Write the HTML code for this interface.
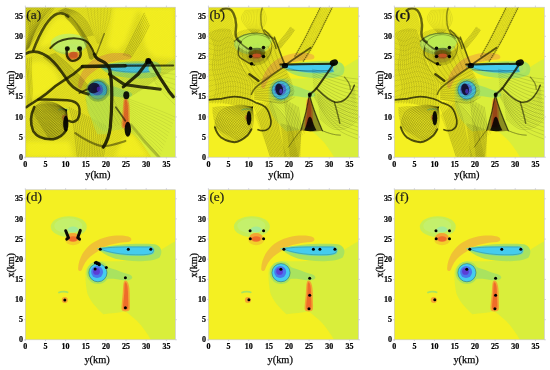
<!DOCTYPE html>
<html><head><meta charset="utf-8"><style>
html,body{margin:0;padding:0;background:#fff;}
svg{display:block;}
</style></head><body>
<svg width="550" height="370" viewBox="0 0 550 370">
<defs>
<pattern id="hatch" width="1.5" height="1.5" patternUnits="userSpaceOnUse" patternTransform="rotate(35)"><rect width="1.5" height="0.7" fill="#2e2e00" fill-opacity="0.62"/><rect x="0" y="0" width="0.6" height="1.5" fill="#2e2e00" fill-opacity="0.25"/></pattern>
<pattern id="hatch2" width="1.3" height="1.3" patternUnits="userSpaceOnUse" patternTransform="rotate(-60)"><rect width="1.3" height="0.65" fill="#222200" fill-opacity="0.7"/></pattern>
<filter id="blur2" x="-20%" y="-20%" width="140%" height="140%"><feGaussianBlur stdDeviation="2"/></filter>
<clipPath id="clip"><rect x="0" y="0" width="150" height="150"/></clipPath>
<filter id="soft" x="-5%" y="-5%" width="110%" height="110%"><feGaussianBlur stdDeviation="0.45"/></filter>
<g id="field" filter="url(#soft)">
<rect x="-2" y="-2" width="154" height="154" fill="#f4f021"/>
<path d="M60,84 C60,92 61,99 62,104 C64,110 70,118 78,125 C86,124 94,123.5 100,122 C104,125 108,128 112,132 C117,137 122,144 126.6,152 L152,152 L152,51 C144,55 138,59 134,62 C128,67 118,70 108,71 C98,72 88,72 80,72 C70,70 60,76 60,84 Z" fill="#d9ee3a"/>
<path d="M76,76 C84,78 94,82 100,84 C104,85 107,86 107,88.5 C106,91 102,91.5 98,91 C92,90 86,89 80,90 Z" fill="#a9e35f"/>
<path d="M73,59.5 C90,54.5 115,54 129,55 C136,56 138,63 134,68.5 C126,73 105,73 90,69.5 C82,67 76,63 73,59.5 Z" fill="#a9e35f"/>
<ellipse cx="43.5" cy="37.5" rx="18" ry="10.5" fill="#c6ee55"/>
<ellipse cx="43" cy="36.5" rx="14" ry="7.5" fill="#c4f06c"/>
<ellipse cx="47.8" cy="40.2" rx="5.5" ry="2.8" fill="#a2ec98"/>
<ellipse cx="47.8" cy="50" rx="8" ry="6" fill="#f2d02c"/>
<ellipse cx="47.6" cy="48.3" rx="6.4" ry="4.6" fill="#f4a432"/>
<ellipse cx="47.8" cy="49.6" rx="4.4" ry="2.6" fill="#ef6c2c"/>
<path d="M52.8,79.7 C53,72 56,64 63.7,56.6 C70,51 79,47.5 88,46.5 C95,46 102,46.3 105,48.3 C107,50.3 106,52.5 103,52.8 C98,53 92,53.8 84,55.8 C80,57 77,58.5 74.7,60.8 C71,63.3 67,65.5 64.9,67.6 C61,71 58,76 56.4,80.9 C55.5,82.5 53,82 52.8,79.7 Z" fill="#f0c234"/>
<circle cx="72.6" cy="83.5" r="11.3" fill="#a9e35f"/>
<path d="M75,59.8 C82,57.6 100,57.6 124,57.8 C128,58 129,61 127.5,63.5 C125,65.5 118,65.7 110,65.6 C96,65.4 84,63.5 75,59.8 Z" fill="none" stroke="#72d8b0" stroke-width="2.4"/>
<path d="M75,59.8 C82,57.6 100,57.6 124,57.8 C128,58 129,61 127.5,63.5 C125,65.5 118,65.7 110,65.6 C96,65.4 84,63.5 75,59.8 Z" fill="#44ccee" stroke="#1f6f80" stroke-width="0.4"/>
<circle cx="72.6" cy="83.5" r="9.1" fill="#44ccee" stroke="#1d5f74" stroke-width="0.5"/>
<circle cx="71.8" cy="82.8" r="6" fill="#4a78ee"/>
<circle cx="71.2" cy="82.2" r="3.4" fill="#5b3ed6"/>
<path d="M100.1,91.3 C102.5,91.3 104.4,96 104.4,104 C104.4,112 105,118 104.5,120 C103.8,123 96.6,123 96.3,120 C96,117 97,110 97.5,103 C98,96 98,91.3 100.1,91.3 Z" fill="#f4a432"/>
<path d="M100.1,93 C101.6,93 102.6,97 102.7,104 C102.8,111 103.4,116 102.9,119 C102.2,121 98.2,121 97.9,119 C97.6,116 98.6,110 99,103 C99.3,97 99,93 100.1,93 Z" fill="#ef6c2c"/>
<circle cx="39.5" cy="110.8" r="3" fill="#f4a432"/>
<path d="M33,103.5 C36,102 41,102 43,103.5" stroke="#a9e35f" stroke-width="1.6" fill="none"/>
</g>
</defs>
<rect width="550" height="370" fill="#fff"/>
<g transform="translate(25.3,7.2)">
<g clip-path="url(#clip)">
<use href="#field" transform="translate(0,-0.6)"/>
<g filter="url(#soft)"><path fill-rule="evenodd" d="M0,0 L150,0 L150,150 L0,150 Z M104,90 C112,86 124,78 134,70 L150,62 L150,150 L126,150 C118,138 110,126 104,118 Z" fill="#4a4a00" fill-opacity="0.066"/><path fill-rule="evenodd" d="M0,0 L150,0 L150,150 L0,150 Z M104,90 C112,86 124,78 134,70 L150,62 L150,150 L126,150 C118,138 110,126 104,118 Z" fill="url(#hatch)" opacity="0.165"/>
<g filter="url(#blur2)" fill="#f4f021" fill-opacity="0.85"><path d="M14,40 C18,28 24,18 31,11 C37,8 43,11 48,16 C53,22 56,27 57,31 C50,29 42,29 34,33 C26,37 20,40 14,40 Z"/><path d="M5,56 C12,52 20,54 26,60 C32,66 34,72 34,76 C28,80 20,86 12,90 L5,92 Z"/><path d="M0,134 L44,134 C46,140 47,146 48,150 L0,150 Z"/><path d="M88,0 L150,0 L150,52 L128,50 L120,40 C118,30 116,20 117,6 L112,4 C108,14 104,24 100,36 L92,44 L82,40 C84,28 86,14 88,0 Z"/><path d="M108,126 C112,134 118,142 124,150 L90,150 C92,142 96,134 100,130 Z"/></g>
<path d="M0,0 L30,0 C26,6 20,14 14,24 C10,31 6,38 3,42 L0,44 Z" fill="#4a4a00" fill-opacity="0.077"/><path d="M0,0 L30,0 C26,6 20,14 14,24 C10,31 6,38 3,42 L0,44 Z" fill="url(#hatch)" opacity="0.193"/>
<path d="M0.0,8.0 C0.7,10.0 3.7,15.7 4.0,20.0 C4.3,24.3 2.7,30.0 2.0,34.0 C1.3,38.0 0.3,42.3 0.0,44.0 M2.9,7.1 C3.3,9.1 5.6,14.6 5.6,18.9 C5.6,23.2 3.7,28.8 2.9,32.9 C2.0,37.0 0.9,41.8 0.4,43.6 M5.8,6.2 C6.0,8.1 7.4,13.5 7.1,17.8 C6.8,22.0 4.8,27.6 3.8,31.8 C2.7,36.0 1.4,41.2 0.9,43.1 M8.7,5.3 C8.7,7.2 9.3,12.4 8.7,16.7 C8.0,20.9 5.9,26.3 4.7,30.7 C3.4,35.0 1.9,40.7 1.3,42.7 M11.6,4.4 C11.3,6.3 11.2,11.4 10.2,15.6 C9.2,19.7 7.0,25.1 5.6,29.6 C4.1,34.0 2.4,40.1 1.8,42.2 M14.4,3.6 C14.0,5.4 13.1,10.3 11.8,14.4 C10.4,18.6 8.0,23.9 6.4,28.4 C4.9,33.0 2.9,39.6 2.2,41.8 M17.3,2.7 C16.7,4.4 15.0,9.2 13.3,13.3 C11.7,17.4 9.1,22.7 7.3,27.3 C5.6,32.0 3.4,39.0 2.7,41.3 M20.2,1.8 C19.3,3.5 16.9,8.1 14.9,12.2 C12.9,16.3 10.2,21.4 8.2,26.2 C6.3,31.0 4.0,38.4 3.1,40.9 M23.1,0.9 C22.0,2.6 18.8,7.1 16.4,11.1 C14.1,15.1 11.3,20.2 9.1,25.1 C7.0,30.0 4.5,37.9 3.6,40.4 M26.0,0.0 C24.7,1.7 20.7,6.0 18.0,10.0 C15.3,14.0 12.3,19.0 10.0,24.0 C7.7,29.0 5.0,37.3 4.0,40.0" fill="none" stroke="#141400" stroke-width="0.5" stroke-opacity="0.3" stroke-linecap="round"/>
<path d="M33.0,4.0 C34.8,4.7 40.8,5.7 44.0,8.0 C47.2,10.3 49.7,14.3 52.0,18.0 C54.3,21.7 57.0,28.0 58.0,30.0 M33.8,3.7 C35.6,4.3 41.7,5.3 44.9,7.7 C48.1,10.0 50.7,14.0 53.1,17.7 C55.5,21.4 58.1,27.8 59.1,29.8 M34.6,3.3 C36.4,4.0 42.5,5.0 45.8,7.3 C49.1,9.7 51.8,13.6 54.2,17.3 C56.6,21.0 59.2,27.5 60.2,29.6 M35.3,3.0 C37.2,3.7 43.3,4.7 46.7,7.0 C50.0,9.3 52.9,13.3 55.3,17.0 C57.8,20.7 60.3,27.3 61.3,29.3 M36.1,2.7 C38.0,3.3 44.2,4.3 47.6,6.7 C50.9,9.0 54.0,12.9 56.4,16.7 C58.9,20.4 61.4,27.0 62.4,29.1 M36.9,2.3 C38.8,3.0 45.0,4.0 48.4,6.3 C51.9,8.7 55.0,12.6 57.6,16.3 C60.1,20.1 62.6,26.8 63.6,28.9 M37.7,2.0 C39.6,2.7 45.8,3.7 49.3,6.0 C52.8,8.3 56.1,12.2 58.7,16.0 C61.2,19.8 63.7,26.6 64.7,28.7 M38.4,1.7 C40.4,2.3 46.7,3.3 50.2,5.7 C53.8,8.0 57.2,11.9 59.8,15.7 C62.4,19.5 64.8,26.3 65.8,28.4 M39.2,1.3 C41.2,2.0 47.5,3.0 51.1,5.3 C54.7,7.7 58.3,11.5 60.9,15.3 C63.5,19.1 65.9,26.1 66.9,28.2 M40.0,1.0 C42.0,1.7 48.3,2.7 52.0,5.0 C55.7,7.3 59.3,11.2 62.0,15.0 C64.7,18.8 67.0,25.8 68.0,28.0" fill="none" stroke="#141400" stroke-width="0.5" stroke-opacity="0.35" stroke-linecap="round"/>
<path d="M62.0,0.0 C62.3,2.0 63.0,8.0 64.0,12.0 C65.0,16.0 66.7,20.0 68.0,24.0 C69.3,28.0 71.3,34.0 72.0,36.0 M65.4,0.0 C65.7,2.0 66.1,8.0 66.9,12.0 C67.6,16.0 68.8,20.0 69.7,24.0 C70.7,28.0 72.1,34.0 72.6,36.0 M68.9,0.0 C69.0,2.0 69.3,8.0 69.7,12.0 C70.1,16.0 70.9,20.0 71.4,24.0 C72.0,28.0 72.9,34.0 73.1,36.0 M72.3,0.0 C72.3,2.0 72.4,8.0 72.6,12.0 C72.7,16.0 73.0,20.0 73.1,24.0 C73.3,28.0 73.6,34.0 73.7,36.0 M75.7,0.0 C75.7,2.0 75.6,8.0 75.4,12.0 C75.3,16.0 75.0,20.0 74.9,24.0 C74.7,28.0 74.4,34.0 74.3,36.0 M79.1,0.0 C79.0,2.0 78.7,8.0 78.3,12.0 C77.9,16.0 77.1,20.0 76.6,24.0 C76.0,28.0 75.1,34.0 74.9,36.0 M82.6,0.0 C82.3,2.0 81.9,8.0 81.1,12.0 C80.4,16.0 79.2,20.0 78.3,24.0 C77.3,28.0 75.9,34.0 75.4,36.0 M86.0,0.0 C85.7,2.0 85.0,8.0 84.0,12.0 C83.0,16.0 81.3,20.0 80.0,24.0 C78.7,28.0 76.7,34.0 76.0,36.0" fill="none" stroke="#141400" stroke-width="0.45" stroke-opacity="0.16" stroke-linecap="round"/>
<path d="M119.0,6.0 C117.8,8.3 114.3,15.3 112.0,20.0 C109.7,24.7 107.3,29.3 105.0,34.0 C102.7,38.7 99.2,45.7 98.0,48.0 M119.8,8.0 C118.7,10.3 115.3,17.2 113.0,21.7 C110.7,26.2 108.4,30.6 106.2,35.0 C103.9,39.4 100.5,46.1 99.3,48.3 M120.7,10.0 C119.6,12.2 116.2,19.0 114.0,23.3 C111.8,27.7 109.6,31.8 107.3,36.0 C105.1,40.2 101.8,46.6 100.7,48.7 M121.5,12.0 C120.4,14.2 117.2,20.8 115.0,25.0 C112.8,29.2 110.7,33.0 108.5,37.0 C106.3,41.0 103.1,47.0 102.0,49.0 M122.3,14.0 C121.3,16.1 118.1,22.7 116.0,26.7 C113.9,30.7 111.8,34.2 109.7,38.0 C107.6,41.8 104.4,47.4 103.3,49.3 M123.2,16.0 C122.1,18.1 119.1,24.5 117.0,28.3 C114.9,32.2 112.9,35.4 110.8,39.0 C108.8,42.6 105.7,47.9 104.7,49.7 M124.0,18.0 C123.0,20.0 120.0,26.3 118.0,30.0 C116.0,33.7 114.0,36.7 112.0,40.0 C110.0,43.3 107.0,48.3 106.0,50.0" fill="none" stroke="#141400" stroke-width="0.7" stroke-opacity="0.3" stroke-linecap="round" stroke-dasharray="0.7 1.0"/>
<path d="M0.0,52.0 C0.3,54.3 1.5,61.0 2.0,66.0 C2.5,71.0 3.0,76.7 3.0,82.0 C3.0,87.3 2.2,95.3 2.0,98.0 M2.0,51.3 C2.2,53.8 2.9,60.9 3.3,66.0 C3.7,71.1 4.3,76.8 4.3,82.0 C4.3,87.2 3.5,94.8 3.3,97.3 M4.0,50.7 C4.1,53.2 4.4,60.8 4.7,66.0 C4.9,71.2 5.7,76.9 5.7,82.0 C5.7,87.1 4.8,94.2 4.7,96.7 M6.0,50.0 C6.0,52.7 5.8,60.7 6.0,66.0 C6.2,71.3 7.0,77.0 7.0,82.0 C7.0,87.0 6.2,93.7 6.0,96.0" fill="none" stroke="#141400" stroke-width="0.5" stroke-opacity="0.3" stroke-linecap="round"/>
<path d="M18.0,50.0 C20.0,51.7 25.7,56.0 30.0,60.0 C34.3,64.0 39.7,69.7 44.0,74.0 C48.3,78.3 54.0,84.0 56.0,86.0 M19.0,49.7 C21.0,51.3 26.7,55.7 31.0,59.7 C35.3,63.6 40.6,69.2 44.8,73.5 C49.1,77.8 54.7,83.5 56.7,85.5 M20.0,49.3 C22.0,51.0 27.7,55.4 32.0,59.3 C36.3,63.3 41.4,68.7 45.7,73.0 C49.9,77.3 55.4,83.0 57.3,85.0 M21.0,49.0 C23.0,50.7 28.8,55.1 33.0,59.0 C37.2,62.9 42.3,68.2 46.5,72.5 C50.7,76.8 56.1,82.5 58.0,84.5 M22.0,48.7 C24.0,50.3 29.8,54.8 34.0,58.7 C38.2,62.6 43.2,67.8 47.3,72.0 C51.4,76.2 56.8,82.0 58.7,84.0 M23.0,48.3 C25.0,50.0 30.8,54.5 35.0,58.3 C39.2,62.2 44.1,67.3 48.2,71.5 C52.2,75.7 57.5,81.5 59.3,83.5 M24.0,48.0 C26.0,49.7 31.8,54.2 36.0,58.0 C40.2,61.8 45.0,66.8 49.0,71.0 C53.0,75.2 58.2,81.0 60.0,83.0 M25.0,47.7 C27.0,49.3 32.9,53.9 37.0,57.7 C41.1,61.5 45.9,66.4 49.8,70.5 C53.8,74.6 58.9,80.5 60.7,82.5 M26.0,47.3 C28.0,49.0 33.9,53.6 38.0,57.3 C42.1,61.1 46.8,65.9 50.7,70.0 C54.6,74.1 59.6,80.0 61.3,82.0 M27.0,47.0 C29.0,48.7 34.9,53.2 39.0,57.0 C43.1,60.8 47.7,65.4 51.5,69.5 C55.3,73.6 60.2,79.5 62.0,81.5 M28.0,46.7 C30.0,48.3 35.9,52.9 40.0,56.7 C44.1,60.4 48.6,64.9 52.3,69.0 C56.1,73.1 60.9,79.0 62.7,81.0 M29.0,46.3 C31.0,48.0 37.0,52.6 41.0,56.3 C45.0,60.0 49.4,64.5 53.2,68.5 C56.9,72.5 61.6,78.5 63.3,80.5 M30.0,46.0 C32.0,47.7 38.0,52.3 42.0,56.0 C46.0,59.7 50.3,64.0 54.0,68.0 C57.7,72.0 62.3,78.0 64.0,80.0" fill="none" stroke="#141400" stroke-width="0.5" stroke-opacity="0.4" stroke-linecap="round"/>
<path d="M8,99 C4,110 6,124 18,131.5 C28,133.5 37,130 42,122 L42,104 C32,96 18,94 8,99 Z" fill="#4a4a00" fill-opacity="0.099"/><path d="M8,99 C4,110 6,124 18,131.5 C28,133.5 37,130 42,122 L42,104 C32,96 18,94 8,99 Z" fill="url(#hatch2)" opacity="0.248"/>
<path d="M41.0,103.0 C39.2,101.8 34.2,97.3 30.0,96.0 C25.8,94.7 19.8,93.7 16.0,95.0 C12.2,96.3 8.5,102.5 7.0,104.0 M41.0,103.0 C39.2,101.9 34.5,97.8 30.4,96.7 C26.4,95.5 20.6,94.8 16.8,96.1 C13.0,97.5 9.2,103.6 7.6,105.0 M41.0,103.0 C39.3,102.1 34.8,98.3 30.9,97.3 C27.0,96.4 21.3,95.8 17.6,97.3 C13.8,98.8 9.8,104.6 8.3,106.1 M41.0,103.0 C39.4,102.2 35.1,98.8 31.3,98.0 C27.6,97.2 22.1,96.9 18.3,98.4 C14.6,100.0 10.5,105.7 8.9,107.1 M41.0,103.0 C39.5,102.3 35.4,99.2 31.8,98.7 C28.1,98.1 22.8,98.0 19.1,99.6 C15.4,101.2 11.1,106.7 9.5,108.1 M41.0,103.0 C39.5,102.4 35.7,99.7 32.2,99.3 C28.7,99.0 23.6,99.1 19.9,100.7 C16.2,102.4 11.8,107.8 10.1,109.2 M41.0,103.0 C39.6,102.5 36.1,100.2 32.7,100.0 C29.3,99.8 24.3,100.2 20.7,101.9 C17.0,103.6 12.4,108.8 10.8,110.2 M41.0,103.0 C39.7,102.6 36.4,100.7 33.1,100.7 C29.9,100.7 25.1,101.3 21.4,103.0 C17.8,104.8 13.1,109.9 11.4,111.3 M41.0,103.0 C39.8,102.7 36.7,101.1 33.6,101.3 C30.4,101.5 25.8,102.4 22.2,104.2 C18.6,106.0 13.7,110.9 12.0,112.3 M41.0,103.0 C39.8,102.8 37.0,101.6 34.0,102.0 C31.0,102.4 26.6,103.4 23.0,105.3 C19.4,107.2 14.4,112.0 12.7,113.3 M41.0,103.0 C39.9,102.9 37.3,102.1 34.4,102.7 C31.6,103.2 27.3,104.5 23.8,106.5 C20.3,108.4 15.0,113.1 13.3,114.4 M41.0,103.0 C40.0,103.1 37.6,102.6 34.9,103.3 C32.1,104.1 28.0,105.6 24.6,107.6 C21.1,109.6 15.7,114.1 13.9,115.4 M41.0,103.0 C40.1,103.2 37.9,103.0 35.3,104.0 C32.7,105.0 28.8,106.7 25.3,108.8 C21.9,110.9 16.4,115.2 14.6,116.4 M41.0,103.0 C40.1,103.3 38.3,103.5 35.8,104.7 C33.3,105.8 29.5,107.8 26.1,109.9 C22.7,112.1 17.0,116.2 15.2,117.5 M41.0,103.0 C40.2,103.4 38.6,104.0 36.2,105.3 C33.9,106.7 30.3,108.9 26.9,111.1 C23.5,113.3 17.7,117.3 15.8,118.5 M41.0,103.0 C40.3,103.5 38.9,104.5 36.7,106.0 C34.4,107.5 31.0,110.0 27.7,112.2 C24.3,114.5 18.3,118.3 16.4,119.6 M41.0,103.0 C40.4,103.6 39.2,104.9 37.1,106.7 C35.0,108.4 31.8,111.0 28.4,113.4 C25.1,115.7 19.0,119.4 17.1,120.6 M41.0,103.0 C40.4,103.7 39.5,105.4 37.6,107.3 C35.6,109.3 32.5,112.1 29.2,114.5 C25.9,116.9 19.6,120.4 17.7,121.6 M41.0,103.0 C40.5,103.8 39.8,105.9 38.0,108.0 C36.2,110.1 33.3,113.2 30.0,115.7 C26.7,118.1 20.3,121.5 18.3,122.7 M41.0,103.0 C40.6,103.9 40.1,106.4 38.4,108.7 C36.7,111.0 34.0,114.3 30.8,116.8 C27.5,119.3 20.9,122.6 19.0,123.7 M41.0,103.0 C40.6,104.1 40.5,106.8 38.9,109.3 C37.3,111.8 34.8,115.4 31.6,118.0 C28.3,120.5 21.6,123.6 19.6,124.7 M41.0,103.0 C40.7,104.2 40.8,107.3 39.3,110.0 C37.9,112.7 35.5,116.5 32.3,119.1 C29.1,121.7 22.2,124.7 20.2,125.8 M41.0,103.0 C40.8,104.3 41.1,107.8 39.8,110.7 C38.5,113.5 36.3,117.6 33.1,120.3 C30.0,123.0 22.9,125.7 20.9,126.8 M41.0,103.0 C40.9,104.4 41.4,108.3 40.2,111.3 C39.0,114.4 37.0,118.7 33.9,121.4 C30.8,124.2 23.5,126.8 21.5,127.9 M41.0,103.0 C40.9,104.5 41.7,108.7 40.7,112.0 C39.6,115.3 37.8,119.7 34.7,122.6 C31.6,125.4 24.2,127.8 22.1,128.9 M41.0,103.0 C41.0,104.6 42.0,109.2 41.1,112.7 C40.2,116.1 38.5,120.8 35.4,123.7 C32.4,126.6 24.9,128.9 22.7,129.9 M41.0,103.0 C41.1,104.7 42.4,109.7 41.6,113.3 C40.8,117.0 39.3,121.9 36.2,124.9 C33.2,127.8 25.5,129.9 23.4,131.0 M41.0,103.0 C41.2,104.8 42.7,110.2 42.0,114.0 C41.3,117.8 40.0,123.0 37.0,126.0 C34.0,129.0 26.2,131.0 24.0,132.0" fill="none" stroke="#141400" stroke-width="0.45" stroke-opacity="0.55" stroke-linecap="round"/>
<path d="M44.0,100.0 C44.7,102.7 47.0,110.7 48.0,116.0 C49.0,121.3 49.3,126.3 50.0,132.0 C50.7,137.7 51.7,147.0 52.0,150.0 M46.1,101.1 C46.8,103.7 49.1,111.6 50.0,116.8 C50.9,122.1 51.2,126.9 51.8,132.5 C52.4,138.0 53.2,147.1 53.5,150.0 M48.2,102.1 C48.9,104.7 51.1,112.5 52.0,117.6 C52.9,122.8 53.0,127.5 53.5,132.9 C54.0,138.3 54.8,147.2 55.1,150.0 M50.4,103.2 C51.0,105.7 53.2,113.4 54.0,118.5 C54.8,123.5 54.9,128.2 55.3,133.4 C55.7,138.7 56.4,147.2 56.6,150.0 M52.5,104.2 C53.1,106.7 55.2,114.4 56.0,119.3 C56.8,124.2 56.7,128.8 57.1,133.9 C57.4,139.0 57.9,147.3 58.1,150.0 M54.6,105.3 C55.2,107.8 57.3,115.3 58.0,120.1 C58.7,125.0 58.5,129.4 58.8,134.4 C59.1,139.3 59.5,147.4 59.6,150.0 M56.7,106.4 C57.3,108.8 59.4,116.2 60.0,120.9 C60.6,125.7 60.4,130.0 60.6,134.8 C60.8,139.7 61.1,147.5 61.2,150.0 M58.8,107.4 C59.4,109.8 61.4,117.1 62.0,121.8 C62.6,126.4 62.2,130.6 62.4,135.3 C62.5,140.0 62.6,147.5 62.7,150.0 M60.9,108.5 C61.5,110.8 63.5,118.0 64.0,122.6 C64.5,127.1 64.1,131.2 64.1,135.8 C64.2,140.3 64.2,147.6 64.2,150.0 M63.1,109.5 C63.5,111.8 65.5,119.0 66.0,123.4 C66.5,127.9 65.9,131.8 65.9,136.2 C65.8,140.7 65.8,147.7 65.8,150.0 M65.2,110.6 C65.6,112.9 67.6,119.9 68.0,124.2 C68.4,128.6 67.8,132.4 67.6,136.7 C67.5,141.0 67.4,147.8 67.3,150.0 M67.3,111.6 C67.7,113.9 69.6,120.8 70.0,125.1 C70.4,129.3 69.6,133.0 69.4,137.2 C69.2,141.3 68.9,147.9 68.8,150.0 M69.4,112.7 C69.8,114.9 71.7,121.7 72.0,125.9 C72.3,130.0 71.5,133.6 71.2,137.6 C70.9,141.7 70.5,147.9 70.4,150.0 M71.5,113.8 C71.9,115.9 73.8,122.6 74.0,126.7 C74.2,130.8 73.3,134.2 72.9,138.1 C72.6,142.0 72.1,148.0 71.9,150.0 M73.6,114.8 C74.0,116.9 75.8,123.6 76.0,127.5 C76.2,131.5 75.1,134.8 74.7,138.6 C74.3,142.3 73.6,148.1 73.4,150.0 M75.8,115.9 C76.1,118.0 77.9,124.5 78.0,128.4 C78.1,132.2 77.0,135.5 76.5,139.1 C76.0,142.7 75.2,148.2 74.9,150.0 M77.9,116.9 C78.2,119.0 79.9,125.4 80.0,129.2 C80.1,132.9 78.8,136.1 78.2,139.5 C77.6,143.0 76.8,148.3 76.5,150.0 M80.0,118.0 C80.3,120.0 82.0,126.3 82.0,130.0 C82.0,133.7 80.7,136.7 80.0,140.0 C79.3,143.3 78.3,148.3 78.0,150.0" fill="none" stroke="#141400" stroke-width="0.45" stroke-opacity="0.35" stroke-linecap="round"/>
<path d="M104.0,92.0 C106.7,93.0 114.7,96.0 120.0,98.0 C125.3,100.0 131.0,102.0 136.0,104.0 C141.0,106.0 147.7,109.0 150.0,110.0 M104.2,94.0 C106.8,95.1 114.6,98.5 119.8,100.6 C125.1,102.8 130.6,104.8 135.4,106.9 C140.2,109.0 146.5,112.1 148.8,113.1 M104.3,96.0 C106.9,97.2 114.6,100.9 119.7,103.2 C124.8,105.5 130.1,107.7 134.8,109.8 C139.4,112.0 145.4,115.1 147.5,116.2 M104.5,98.0 C107.0,99.3 114.6,103.4 119.5,105.8 C124.5,108.3 129.7,110.5 134.2,112.8 C138.6,115.0 144.3,118.2 146.3,119.2 M104.6,100.0 C107.1,101.4 114.6,105.8 119.4,108.5 C124.2,111.1 129.3,113.4 133.5,115.7 C137.8,118.0 143.2,121.2 145.1,122.3 M104.8,102.0 C107.2,103.5 114.5,108.3 119.2,111.1 C123.9,113.8 128.8,116.2 132.9,118.6 C137.0,121.0 142.0,124.3 143.8,125.4 M104.9,104.0 C107.3,105.6 114.5,110.8 119.1,113.7 C123.6,116.6 128.4,119.1 132.3,121.5 C136.2,124.0 140.9,127.3 142.6,128.5 M105.1,106.0 C107.4,107.7 114.5,113.2 118.9,116.3 C123.4,119.4 127.9,121.9 131.7,124.5 C135.4,127.0 139.8,130.4 141.4,131.5 M105.2,108.0 C107.5,109.8 114.5,115.7 118.8,118.9 C123.1,122.2 127.5,124.8 131.1,127.4 C134.6,130.0 138.6,133.4 140.2,134.6 M105.4,110.0 C107.6,111.9 114.4,118.2 118.6,121.5 C122.8,124.9 127.1,127.6 130.5,130.3 C133.8,133.0 137.5,136.5 138.9,137.7 M105.5,112.0 C107.7,114.0 114.4,120.6 118.5,124.2 C122.5,127.7 126.6,130.5 129.8,133.2 C133.1,136.0 136.4,139.5 137.7,140.8 M105.7,114.0 C107.8,116.1 114.4,123.1 118.3,126.8 C122.2,130.5 126.2,133.3 129.2,136.2 C132.3,139.0 135.3,142.6 136.5,143.8 M105.8,116.0 C107.9,118.2 114.4,125.5 118.2,129.4 C121.9,133.2 125.8,136.2 128.6,139.1 C131.5,142.0 134.1,145.6 135.2,146.9 M106.0,118.0 C108.0,120.3 114.3,128.0 118.0,132.0 C121.7,136.0 125.3,139.0 128.0,142.0 C130.7,145.0 133.0,148.7 134.0,150.0" fill="none" stroke="#141400" stroke-width="0.45" stroke-opacity="0.16" stroke-linecap="round"/>
<path d="M124.0,62.0 C126.2,62.0 132.7,62.0 137.0,62.0 C141.3,62.0 147.8,62.0 150.0,62.0 M124.9,64.0 C127.0,64.3 133.2,65.2 137.4,65.7 C141.6,66.2 147.9,66.9 150.0,67.1 M125.7,66.0 C127.7,66.6 133.8,68.4 137.9,69.4 C141.9,70.5 148.0,71.8 150.0,72.3 M126.6,68.0 C128.5,68.9 134.4,71.6 138.3,73.1 C142.2,74.7 148.0,76.7 150.0,77.4 M127.4,70.0 C129.3,71.1 135.0,74.8 138.7,76.9 C142.5,79.0 148.1,81.6 150.0,82.6 M128.3,72.0 C130.1,73.4 135.5,78.0 139.1,80.6 C142.8,83.2 148.2,86.5 150.0,87.7 M129.1,74.0 C130.9,75.7 136.1,81.1 139.6,84.3 C143.0,87.4 148.3,91.4 150.0,92.9 M130.0,76.0 C131.7,78.0 136.7,84.3 140.0,88.0 C143.3,91.7 148.3,96.3 150.0,98.0" fill="none" stroke="#141400" stroke-width="0.45" stroke-opacity="0.18" stroke-linecap="round"/>
<path d="M88.0,92.0 C88.7,93.3 90.7,97.3 92.0,100.0 C93.3,102.7 94.7,105.3 96.0,108.0 C97.3,110.7 99.3,114.7 100.0,116.0 M84.0,92.0 C84.7,93.4 86.9,97.5 88.3,100.3 C89.7,103.0 91.1,105.8 92.6,108.6 C94.0,111.3 96.1,115.5 96.9,116.9 M80.0,92.0 C80.8,93.4 83.0,97.7 84.6,100.6 C86.1,103.4 87.6,106.3 89.1,109.1 C90.7,112.0 93.0,116.3 93.7,117.7 M76.0,92.0 C76.8,93.5 79.2,97.9 80.9,100.9 C82.5,103.8 84.1,106.8 85.7,109.7 C87.3,112.7 89.8,117.1 90.6,118.6 M72.0,92.0 C72.9,93.5 75.4,98.1 77.1,101.1 C78.9,104.2 80.6,107.2 82.3,110.3 C84.0,113.3 86.6,117.9 87.4,119.4 M68.0,92.0 C68.9,93.6 71.6,98.3 73.4,101.4 C75.2,104.6 77.0,107.7 78.9,110.9 C80.7,114.0 83.4,118.7 84.3,120.3 M64.0,92.0 C65.0,93.6 67.8,98.5 69.7,101.7 C71.6,105.0 73.5,108.2 75.4,111.4 C77.3,114.7 80.2,119.5 81.1,121.1 M60.0,92.0 C61.0,93.7 64.0,98.7 66.0,102.0 C68.0,105.3 70.0,108.7 72.0,112.0 C74.0,115.3 77.0,120.3 78.0,122.0" fill="none" stroke="#141400" stroke-width="0.45" stroke-opacity="0.2" stroke-linecap="round"/>
<path d="M60.5,89 C68,88 76,88 84.5,88 L83.5,127 L72,127 C68,118 63,106 60.5,89 Z" fill="#b4e650" fill-opacity="0.5"/>
<ellipse cx="127.8" cy="61.2" rx="4.6" ry="4.6" fill="#b2e45e" fill-opacity="0.9" transform="rotate(0 127.8 61.2)"/>
<ellipse cx="43.5" cy="36" rx="18" ry="9.5" fill="#c4ee62" fill-opacity="0.85" transform="rotate(0 43.5 36)"/>
<ellipse cx="48.2" cy="47.5" rx="4.2" ry="3.0" fill="#c85a22" fill-opacity="0.95" transform="rotate(0 48.2 47.5)"/>
<path d="M8,43 C11,35 15,26 20,18 C24,12 28,8 32,6.5 C36,5.5 40,6.5 43,9.5" fill="none" stroke="#141400" stroke-width="2.6" stroke-opacity="0.7" stroke-linecap="round" stroke-linejoin="round" />
<path d="M42,9 C48,14 54,22 60,32 C63,38 65,44 66,50" fill="none" stroke="#141400" stroke-width="5" stroke-opacity="0.3" stroke-linecap="round" stroke-linejoin="round" />
<path d="M0,46.5 C5,44 12,44 17.3,46.5 C23,49 28,54 32,59 C36,64 40,70 44,76 C48,81 55,85 63,87" fill="none" stroke="#141400" stroke-width="2.8" stroke-opacity="0.8" stroke-linecap="round" stroke-linejoin="round" />
<path d="M25,41 C29,36 36,32.5 43,31.5 C50,30.5 56,31.5 60,33.5 C64,36 67,41 69,47" fill="none" stroke="#141400" stroke-width="2.0" stroke-opacity="0.8" stroke-linecap="round" stroke-linejoin="round" />
<path d="M69,47 C70,50 72,52 76,53.5 C80,55 83,58 84.5,63 C86,70 86.5,78 86.5,88 C86.5,100 86,110 85,120 C84,128 82,134 78,140" fill="none" stroke="#141400" stroke-width="3.2" stroke-opacity="0.9" stroke-linecap="round" stroke-linejoin="round" />
<path d="M57,59.3 L100,58.6" fill="none" stroke="#141400" stroke-width="3.4" stroke-opacity="0.9" stroke-linecap="round" stroke-linejoin="round" />
<path d="M100,58.6 L148,58.3" fill="none" stroke="#141400" stroke-width="2.0" stroke-opacity="0.75" stroke-linecap="round" stroke-linejoin="round" />
<path d="M98,79.7 L113,66.8 L123.3,53 L126.2,56 L135,71 L143.5,84 L148,89.5" fill="none" stroke="#141400" stroke-width="3.2" stroke-opacity="0.9" stroke-linecap="round" stroke-linejoin="round" />
<ellipse cx="123" cy="54" rx="3" ry="3.2" fill="#000" fill-opacity="0.9" transform="rotate(0 123 54)"/>
<path d="M84,67 C90,71 95,75 100,77.6 C110,79 122,80.5 135,82" fill="none" stroke="#141400" stroke-width="3.0" stroke-opacity="0.85" stroke-linecap="round" stroke-linejoin="round" />
<path d="M1,100 C8,95 14,92 21.6,86 C28,80 34,76 39,73 C44,70 50,66 57,59.5" fill="none" stroke="#141400" stroke-width="2.6" stroke-opacity="0.8" stroke-linecap="round" stroke-linejoin="round" />
<path d="M13,92.4 C22,92 32,92.4 42,93 C48,93.5 52,95 53.5,99 C55,103 54.5,109 52,112.5 C49.5,115 46,115 43.5,113.5" fill="none" stroke="#141400" stroke-width="2.4" stroke-opacity="0.8" stroke-linecap="round" stroke-linejoin="round" />
<path d="M9,100 C5,108 5,117 8,124 C12,130 20,132.5 28,132 C34,131 38,128 41,123" fill="none" stroke="#141400" stroke-width="2.6" stroke-opacity="0.8" stroke-linecap="round" stroke-linejoin="round" />
<ellipse cx="40.5" cy="116.5" rx="2.6" ry="8" fill="#000" fill-opacity="0.92" transform="rotate(0 40.5 116.5)"/>
<path d="M50,126 C58,132 70,138 77,139 C85,139 93,136 100,133.8" fill="none" stroke="#141400" stroke-width="2.2" stroke-opacity="0.45" stroke-linecap="round" stroke-linejoin="round" />
<ellipse cx="101" cy="88" rx="3" ry="4" fill="#000" fill-opacity="0.9" transform="rotate(0 101 88)"/>
<ellipse cx="102.5" cy="122" rx="3.2" ry="7.5" fill="#000" fill-opacity="0.92" transform="rotate(0 102.5 122)"/>
<path d="M90.5,100 C94,105 97,109 100,113.5" fill="none" stroke="#141400" stroke-width="1.8" stroke-opacity="0.6" stroke-linecap="round" stroke-linejoin="round" />
<path d="M79,26.4 L70,50" fill="none" stroke="#141400" stroke-width="1.4" stroke-opacity="0.45" stroke-linecap="round" stroke-linejoin="round" />
<path d="M105.4,117.6 C112,126 124,140 133.8,150" fill="none" stroke="#141400" stroke-width="3" stroke-opacity="0.2" stroke-linecap="round" stroke-linejoin="round" />
<path d="M54,85.8 C57,84.5 60,83 64,81.5" fill="none" stroke="#141400" stroke-width="1.8" stroke-opacity="0.7" stroke-linecap="round" stroke-linejoin="round" />
<ellipse cx="72.6" cy="83.5" rx="11.5" ry="11" fill="#103020" fill-opacity="0.22" transform="rotate(0 72.6 83.5)"/>
<ellipse cx="68.5" cy="80.8" rx="6" ry="5.2" fill="#0a0a28" fill-opacity="0.88" transform="rotate(-15 68.5 80.8)"/>
<ellipse cx="73.5" cy="81.8" rx="2.2" ry="2.6" fill="#4a2ab0" fill-opacity="0.75" transform="rotate(0 73.5 81.8)"/>
<ellipse cx="42" cy="41.5" rx="2.5" ry="2.4" fill="#000" fill-opacity="0.92" transform="rotate(0 42 41.5)"/>
<ellipse cx="54.3" cy="41.5" rx="2.5" ry="2.4" fill="#000" fill-opacity="0.92" transform="rotate(0 54.3 41.5)"/>
<path d="M41.5,43 C41,47 42,51 45,53 C48,54.5 52,53 54.5,50 C56,47.5 55.5,45 54.8,43" fill="none" stroke="#141400" stroke-width="2.4" stroke-opacity="0.85" stroke-linecap="round" stroke-linejoin="round" /></g>
</g>
<text x="1.0" y="12.3" font-family="Liberation Serif, serif" font-size="13.4" fill="#1a1a1a" stroke="#1a1a1a" stroke-width="0.2">(a)</text>
</g>
<text x="25.3" y="166.8" text-anchor="middle" font-family="Liberation Serif, serif" font-weight="bold" font-size="8" stroke="#000" stroke-width="0.2">0</text>
<text x="22.9" y="159.8" text-anchor="end" font-family="Liberation Serif, serif" font-weight="bold" font-size="8" stroke="#000" stroke-width="0.2">0</text>
<path d="M25.3,7.2 v-1.6 M25.3,157.2 v1.3 M25.3,157.2 h-1.3 M175.3,157.2 h1.6" stroke="#b8b8c8" stroke-width="0.6"/>
<text x="45.5" y="166.8" text-anchor="middle" font-family="Liberation Serif, serif" font-weight="bold" font-size="8" stroke="#000" stroke-width="0.2">5</text>
<text x="22.9" y="139.6" text-anchor="end" font-family="Liberation Serif, serif" font-weight="bold" font-size="8" stroke="#000" stroke-width="0.2">5</text>
<path d="M45.5,7.2 v-1.6 M45.5,157.2 v1.3 M25.3,137.0 h-1.3 M175.3,137.0 h1.6" stroke="#b8b8c8" stroke-width="0.6"/>
<text x="65.6" y="166.8" text-anchor="middle" font-family="Liberation Serif, serif" font-weight="bold" font-size="8" stroke="#000" stroke-width="0.2">10</text>
<text x="22.9" y="119.5" text-anchor="end" font-family="Liberation Serif, serif" font-weight="bold" font-size="8" stroke="#000" stroke-width="0.2">10</text>
<path d="M65.6,7.2 v-1.6 M65.6,157.2 v1.3 M25.3,116.9 h-1.3 M175.3,116.9 h1.6" stroke="#b8b8c8" stroke-width="0.6"/>
<text x="85.8" y="166.8" text-anchor="middle" font-family="Liberation Serif, serif" font-weight="bold" font-size="8" stroke="#000" stroke-width="0.2">15</text>
<text x="22.9" y="99.3" text-anchor="end" font-family="Liberation Serif, serif" font-weight="bold" font-size="8" stroke="#000" stroke-width="0.2">15</text>
<path d="M85.8,7.2 v-1.6 M85.8,157.2 v1.3 M25.3,96.7 h-1.3 M175.3,96.7 h1.6" stroke="#b8b8c8" stroke-width="0.6"/>
<text x="105.9" y="166.8" text-anchor="middle" font-family="Liberation Serif, serif" font-weight="bold" font-size="8" stroke="#000" stroke-width="0.2">20</text>
<text x="22.9" y="79.2" text-anchor="end" font-family="Liberation Serif, serif" font-weight="bold" font-size="8" stroke="#000" stroke-width="0.2">20</text>
<path d="M105.9,7.2 v-1.6 M105.9,157.2 v1.3 M25.3,76.6 h-1.3 M175.3,76.6 h1.6" stroke="#b8b8c8" stroke-width="0.6"/>
<text x="126.0" y="166.8" text-anchor="middle" font-family="Liberation Serif, serif" font-weight="bold" font-size="8" stroke="#000" stroke-width="0.2">25</text>
<text x="22.9" y="59.0" text-anchor="end" font-family="Liberation Serif, serif" font-weight="bold" font-size="8" stroke="#000" stroke-width="0.2">25</text>
<path d="M126.0,7.2 v-1.6 M126.0,157.2 v1.3 M25.3,56.4 h-1.3 M175.3,56.4 h1.6" stroke="#b8b8c8" stroke-width="0.6"/>
<text x="146.2" y="166.8" text-anchor="middle" font-family="Liberation Serif, serif" font-weight="bold" font-size="8" stroke="#000" stroke-width="0.2">30</text>
<text x="22.9" y="38.9" text-anchor="end" font-family="Liberation Serif, serif" font-weight="bold" font-size="8" stroke="#000" stroke-width="0.2">30</text>
<path d="M146.2,7.2 v-1.6 M146.2,157.2 v1.3 M25.3,36.3 h-1.3 M175.3,36.3 h1.6" stroke="#b8b8c8" stroke-width="0.6"/>
<text x="166.4" y="166.8" text-anchor="middle" font-family="Liberation Serif, serif" font-weight="bold" font-size="8" stroke="#000" stroke-width="0.2">35</text>
<text x="22.9" y="18.7" text-anchor="end" font-family="Liberation Serif, serif" font-weight="bold" font-size="8" stroke="#000" stroke-width="0.2">35</text>
<path d="M166.4,7.2 v-1.6 M166.4,157.2 v1.3 M25.3,16.1 h-1.3 M175.3,16.1 h1.6" stroke="#b8b8c8" stroke-width="0.6"/>
<rect x="25.3" y="7.2" width="150.0" height="150.0" fill="none" stroke="#c4c4cc" stroke-width="0.6"/>
<text x="97.9" y="177.6" text-anchor="middle" font-family="Liberation Serif, serif" font-size="10.4" stroke="#111" stroke-width="0.25">y(km)</text>
<text transform="translate(13.5,82.8) rotate(-90)" text-anchor="middle" font-family="Liberation Serif, serif" font-size="10" stroke="#111" stroke-width="0.25">x(km)</text><g transform="translate(208.4,7.2)">
<g clip-path="url(#clip)">
<use href="#field" transform="translate(0,-0.6)"/>
<g filter="url(#soft)"><path d="M0,0 L19,0 C23,6 26,14 26,24 L0,24 Z" fill="#4a4a00" fill-opacity="0.055"/><path d="M0,0 L19,0 C23,6 26,14 26,24 L0,24 Z" fill="url(#hatch)" opacity="0.138"/>
<path d="M0,26 C6,22 14,20 22,22 C26,30 28,40 30,50 C34,60 40,68 46,74 C44,84 42,92 44,100 L30,100 C20,96 10,94 0,96 Z" fill="#4a4a00" fill-opacity="0.066"/><path d="M0,26 C6,22 14,20 22,22 C26,30 28,40 30,50 C34,60 40,68 46,74 C44,84 42,92 44,100 L30,100 C20,96 10,94 0,96 Z" fill="url(#hatch)" opacity="0.165"/>
<path d="M0.0,24.0 C1.0,26.7 5.3,34.0 6.0,40.0 C6.7,46.0 3.7,53.3 4.0,60.0 C4.3,66.7 8.0,74.0 8.0,80.0 C8.0,86.0 4.7,93.3 4.0,96.0 M1.7,24.0 C2.7,26.7 6.9,34.0 7.6,40.0 C8.3,46.0 5.7,53.4 6.1,60.0 C6.6,66.6 10.3,73.7 10.4,79.7 C10.5,85.8 7.3,93.4 6.7,96.1 M3.5,24.0 C4.4,26.7 8.4,34.0 9.2,40.0 C10.0,46.0 7.7,53.4 8.3,60.0 C8.9,66.6 12.6,73.4 12.8,79.5 C13.0,85.5 9.9,93.5 9.3,96.3 M5.2,24.0 C6.1,26.7 9.9,34.0 10.8,40.0 C11.7,46.0 9.7,53.5 10.4,60.0 C11.1,66.5 14.9,73.1 15.2,79.2 C15.5,85.3 12.5,93.5 12.0,96.4 M6.9,24.0 C7.8,26.7 11.5,34.0 12.4,40.0 C13.3,46.0 11.7,53.5 12.5,60.0 C13.4,66.5 17.2,72.8 17.6,78.9 C18.0,85.0 15.2,93.6 14.7,96.5 M8.7,24.0 C9.6,26.7 13.0,34.0 14.0,40.0 C15.0,46.0 13.7,53.6 14.7,60.0 C15.7,66.4 19.6,72.6 20.0,78.7 C20.4,84.8 17.8,93.7 17.3,96.7 M10.4,24.0 C11.3,26.7 14.5,34.0 15.6,40.0 C16.7,46.0 15.7,53.6 16.8,60.0 C17.9,66.4 21.9,72.3 22.4,78.4 C22.9,84.5 20.4,93.7 20.0,96.8 M12.1,24.0 C13.0,26.7 16.1,34.0 17.2,40.0 C18.3,46.0 17.7,53.6 18.9,60.0 C20.2,66.4 24.2,72.0 24.8,78.1 C25.4,84.3 23.0,93.8 22.7,96.9 M13.9,24.0 C14.7,26.7 17.6,34.0 18.8,40.0 C20.0,46.0 19.7,53.7 21.1,60.0 C22.5,66.3 26.5,71.7 27.2,77.9 C27.9,84.0 25.6,93.9 25.3,97.1 M15.6,24.0 C16.4,26.7 19.1,34.0 20.4,40.0 C21.7,46.0 21.7,53.7 23.2,60.0 C24.7,66.3 28.8,71.4 29.6,77.6 C30.4,83.8 28.3,93.9 28.0,97.2 M17.3,24.0 C18.1,26.7 20.7,34.0 22.0,40.0 C23.3,46.0 23.7,53.8 25.3,60.0 C27.0,66.2 31.1,71.1 32.0,77.3 C32.9,83.6 30.9,94.0 30.7,97.3 M19.1,24.0 C19.8,26.7 22.2,34.0 23.6,40.0 C25.0,46.0 25.7,53.8 27.5,60.0 C29.3,66.2 33.4,70.8 34.4,77.1 C35.4,83.3 33.5,94.1 33.3,97.5 M20.8,24.0 C21.5,26.7 23.7,34.0 25.2,40.0 C26.7,46.0 27.7,53.9 29.6,60.0 C31.5,66.1 35.7,70.5 36.8,76.8 C37.9,83.1 36.1,94.1 36.0,97.6 M22.5,24.0 C23.2,26.7 25.3,34.0 26.8,40.0 C28.3,46.0 29.7,53.9 31.7,60.0 C33.8,66.1 38.0,70.2 39.2,76.5 C40.4,82.8 38.8,94.2 38.7,97.7 M24.3,24.0 C25.0,26.7 26.8,34.0 28.4,40.0 C30.0,46.0 31.7,54.0 33.9,60.0 C36.1,66.0 40.4,70.0 41.6,76.3 C42.8,82.6 41.4,94.3 41.3,97.9 M26.0,24.0 C26.7,26.7 28.3,34.0 30.0,40.0 C31.7,46.0 33.7,54.0 36.0,60.0 C38.3,66.0 42.7,69.7 44.0,76.0 C45.3,82.3 44.0,94.3 44.0,98.0" fill="none" stroke="#141400" stroke-width="0.45" stroke-opacity="0.25" stroke-linecap="round"/>
<path d="M0.0,30.0 C1.7,30.7 6.7,34.0 10.0,34.0 C13.3,34.0 17.0,29.7 20.0,30.0 C23.0,30.3 26.7,35.0 28.0,36.0 M0.0,35.5 C1.7,36.0 6.8,38.8 10.2,38.7 C13.6,38.6 17.3,34.6 20.5,34.9 C23.8,35.2 28.0,39.8 29.5,40.7 M0.0,40.9 C1.7,41.3 6.8,43.6 10.4,43.5 C13.9,43.3 17.7,39.5 21.1,39.8 C24.5,40.2 29.3,44.5 30.9,45.5 M0.0,46.4 C1.8,46.7 6.9,48.5 10.5,48.2 C14.2,47.9 18.0,44.4 21.6,44.7 C25.3,45.1 30.6,49.3 32.4,50.2 M0.0,51.8 C1.8,52.0 7.0,53.3 10.7,52.9 C14.4,52.5 18.3,49.3 22.2,49.6 C26.0,50.0 31.9,54.0 33.8,54.9 M0.0,57.3 C1.8,57.3 7.1,58.1 10.9,57.6 C14.7,57.2 18.7,54.2 22.7,54.5 C26.8,54.9 33.2,58.8 35.3,59.6 M0.0,62.7 C1.8,62.7 7.2,62.9 11.1,62.4 C15.0,61.8 19.0,59.1 23.3,59.5 C27.5,59.8 34.5,63.5 36.7,64.4 M0.0,68.2 C1.9,68.0 7.3,67.7 11.3,67.1 C15.2,66.5 19.3,64.0 23.8,64.4 C28.3,64.7 35.8,68.3 38.2,69.1 M0.0,73.6 C1.9,73.3 7.4,72.5 11.5,71.8 C15.5,71.1 19.7,68.9 24.4,69.3 C29.1,69.6 37.1,73.1 39.6,73.8 M0.0,79.1 C1.9,78.7 7.5,77.4 11.6,76.5 C15.8,75.7 20.0,73.8 24.9,74.2 C29.8,74.5 38.4,77.8 41.1,78.5 M0.0,84.5 C2.0,84.0 7.6,82.2 11.8,81.3 C16.1,80.4 20.3,78.8 25.5,79.1 C30.6,79.4 39.7,82.6 42.5,83.3 M0.0,90.0 C2.0,89.3 7.7,87.0 12.0,86.0 C16.3,85.0 20.7,83.7 26.0,84.0 C31.3,84.3 41.0,87.3 44.0,88.0" fill="none" stroke="#141400" stroke-width="0.4" stroke-opacity="0.18" stroke-linecap="round"/>
<path d="M46.0,28.0 C44.7,26.7 40.2,22.8 38.0,20.0 C35.8,17.2 33.2,13.8 33.0,11.0 C32.8,8.2 36.3,4.3 37.0,3.0 M46.0,28.0 C44.9,26.7 41.0,22.8 39.1,20.0 C37.2,17.2 34.8,13.8 34.7,11.0 C34.5,8.2 37.6,4.3 38.2,2.9 M46.0,28.0 C45.0,26.7 41.9,22.8 40.3,20.0 C38.7,17.2 36.5,13.9 36.3,11.0 C36.2,8.1 38.9,4.2 39.4,2.9 M46.0,28.0 C45.2,26.7 42.7,22.8 41.4,20.0 C40.1,17.2 38.1,13.9 38.0,11.0 C37.9,8.1 40.2,4.2 40.6,2.8 M46.0,28.0 C45.4,26.7 43.6,22.8 42.5,20.0 C41.5,17.2 39.8,13.9 39.7,11.0 C39.5,8.1 41.4,4.1 41.8,2.7 M46.0,28.0 C45.6,26.7 44.4,22.8 43.7,20.0 C42.9,17.2 41.4,13.9 41.3,11.0 C41.2,8.1 42.7,4.1 43.0,2.7 M46.0,28.0 C45.8,26.7 45.3,22.8 44.8,20.0 C44.3,17.2 43.1,13.9 43.0,11.0 C42.9,8.1 44.0,4.0 44.2,2.6 M46.0,28.0 C46.0,26.7 46.2,22.8 45.9,20.0 C45.7,17.2 44.8,13.9 44.7,11.0 C44.6,8.1 45.3,3.9 45.4,2.5 M46.0,28.0 C46.2,26.7 47.0,22.8 47.1,20.0 C47.1,17.2 46.4,13.9 46.3,11.0 C46.3,8.1 46.6,3.9 46.6,2.5 M46.0,28.0 C46.4,26.7 47.9,22.8 48.2,20.0 C48.5,17.2 48.1,13.9 48.0,11.0 C47.9,8.1 47.8,3.8 47.8,2.4 M46.0,28.0 C46.6,26.7 48.7,22.8 49.3,20.0 C49.9,17.2 49.7,13.9 49.7,11.0 C49.6,8.1 49.1,3.8 49.0,2.3 M46.0,28.0 C46.7,26.7 49.6,22.8 50.5,20.0 C51.4,17.2 51.4,14.0 51.3,11.0 C51.3,8.0 50.4,3.7 50.2,2.3 M46.0,28.0 C46.9,26.7 50.4,22.8 51.6,20.0 C52.8,17.2 53.0,14.0 53.0,11.0 C53.0,8.0 51.7,3.7 51.4,2.2 M46.0,28.0 C47.1,26.7 51.3,22.8 52.7,20.0 C54.2,17.2 54.7,14.0 54.7,11.0 C54.6,8.0 52.9,3.6 52.6,2.1 M46.0,28.0 C47.3,26.7 52.1,22.8 53.9,20.0 C55.6,17.2 56.3,14.0 56.3,11.0 C56.3,8.0 54.2,3.6 53.8,2.1 M46.0,28.0 C47.5,26.7 53.0,22.8 55.0,20.0 C57.0,17.2 58.0,14.0 58.0,11.0 C58.0,8.0 55.5,3.5 55.0,2.0" fill="none" stroke="#141400" stroke-width="0.45" stroke-opacity="0.2" stroke-linecap="round"/>
<path d="M112,0 L124,0 C118,14 110,30 102,46 C98,52 94,56 90,58 L84,54 C90,44 98,30 104,16 C108,8 110,4 112,0 Z" fill="#4a4a00" fill-opacity="0.033"/><path d="M112,0 L124,0 C118,14 110,30 102,46 C98,52 94,56 90,58 L84,54 C90,44 98,30 104,16 C108,8 110,4 112,0 Z" fill="url(#hatch)" opacity="0.083"/>
<path d="M112.0,0.0 C110.7,2.7 106.7,10.7 104.0,16.0 C101.3,21.3 99.0,26.3 96.0,32.0 C93.0,37.7 87.7,47.0 86.0,50.0 M113.7,0.0 C112.4,2.7 108.4,10.6 105.7,16.0 C103.0,21.4 100.6,26.5 97.6,32.3 C94.5,38.0 89.0,47.5 87.3,50.6 M115.4,0.0 C114.1,2.7 110.1,10.6 107.4,16.0 C104.7,21.4 102.3,26.7 99.1,32.6 C96.0,38.4 90.3,48.0 88.6,51.1 M117.1,0.0 C115.8,2.7 111.9,10.5 109.1,16.0 C106.4,21.5 103.9,26.9 100.7,32.9 C97.5,38.8 91.7,48.6 89.9,51.7 M118.9,0.0 C117.5,2.7 113.6,10.5 110.9,16.0 C108.1,21.5 105.6,27.1 102.3,33.1 C99.0,39.2 93.0,49.1 91.1,52.3 M120.6,0.0 C119.2,2.7 115.4,10.4 112.6,16.0 C109.8,21.6 107.2,27.3 103.9,33.4 C100.5,39.6 94.3,49.6 92.4,52.9 M122.3,0.0 C121.0,2.7 117.1,10.4 114.3,16.0 C111.5,21.6 108.9,27.5 105.4,33.7 C102.0,40.0 95.7,50.1 93.7,53.4 M124.0,0.0 C122.7,2.7 118.8,10.3 116.0,16.0 C113.2,21.7 110.5,27.7 107.0,34.0 C103.5,40.3 97.0,50.7 95.0,54.0" fill="none" stroke="#141400" stroke-width="0.4" stroke-opacity="0.22" stroke-linecap="round"/>
<path d="M112.0,0.0 C110.7,2.7 106.7,10.7 104.0,16.0 C101.3,21.3 99.0,26.3 96.0,32.0 C93.0,37.7 87.7,47.0 86.0,50.0 M124.0,0.0 C122.7,2.7 118.8,10.3 116.0,16.0 C113.2,21.7 110.5,27.7 107.0,34.0 C103.5,40.3 97.0,50.7 95.0,54.0" fill="none" stroke="#141400" stroke-width="1.5" stroke-opacity="0.5" stroke-linecap="round" stroke-dasharray="0.2 1.9"/>
<path d="M82.0,20.0 C81.2,21.2 78.7,24.8 77.0,27.0 C75.3,29.2 73.5,31.0 72.0,33.0 C70.5,35.0 68.7,38.0 68.0,39.0 M82.8,20.6 C82.0,21.8 79.5,25.4 77.8,27.6 C76.1,29.8 74.3,31.6 72.8,33.6 C71.3,35.6 69.5,38.4 68.8,39.4 M83.6,21.2 C82.8,22.4 80.3,26.0 78.6,28.2 C76.9,30.4 75.1,32.3 73.6,34.2 C72.1,36.1 70.3,38.9 69.6,39.8 M84.4,21.8 C83.6,23.0 81.1,26.6 79.4,28.8 C77.7,31.0 75.9,32.9 74.4,34.8 C72.9,36.7 71.1,39.3 70.4,40.2 M85.2,22.4 C84.4,23.6 81.9,27.2 80.2,29.4 C78.5,31.6 76.7,33.5 75.2,35.4 C73.7,37.3 71.9,39.7 71.2,40.6 M86.0,23.0 C85.2,24.2 82.7,27.8 81.0,30.0 C79.3,32.2 77.5,34.2 76.0,36.0 C74.5,37.8 72.7,40.2 72.0,41.0" fill="none" stroke="#141400" stroke-width="0.5" stroke-opacity="0.38" stroke-linecap="round"/>
<path d="M4,100 C4,116 10,130 24,135 C34,134 40,128 43,120 L44,102 C30,98 15,98 4,100 Z" fill="#4a4a00" fill-opacity="0.088"/><path d="M4,100 C4,116 10,130 24,135 C34,134 40,128 43,120 L44,102 C30,98 15,98 4,100 Z" fill="url(#hatch2)" opacity="0.220"/>
<path d="M44.0,100.0 C41.7,99.7 35.3,97.3 30.0,98.0 C24.7,98.7 16.0,100.3 12.0,104.0 C8.0,107.7 7.0,117.3 6.0,120.0 M44.0,100.0 C41.8,99.8 35.9,97.9 30.8,98.7 C25.7,99.6 17.5,101.4 13.6,105.1 C9.7,108.7 8.3,118.1 7.3,120.7 M44.0,100.0 C41.9,99.9 36.4,98.5 31.6,99.5 C26.8,100.5 19.0,102.4 15.2,106.1 C11.3,109.8 9.6,118.9 8.5,121.5 M44.0,100.0 C42.1,100.0 36.9,99.0 32.4,100.2 C27.8,101.4 20.5,103.5 16.7,107.2 C13.0,110.8 10.9,119.7 9.8,122.2 M44.0,100.0 C42.2,100.2 37.4,99.6 33.2,100.9 C28.9,102.3 22.0,104.5 18.3,108.2 C14.6,111.9 12.3,120.5 11.1,122.9 M44.0,100.0 C42.3,100.3 38.0,100.1 33.9,101.7 C29.9,103.2 23.5,105.6 19.9,109.3 C16.3,112.9 13.6,121.3 12.3,123.7 M44.0,100.0 C42.5,100.4 38.5,100.7 34.7,102.4 C31.0,104.1 25.0,106.6 21.5,110.3 C17.9,114.0 14.9,122.1 13.6,124.4 M44.0,100.0 C42.6,100.5 39.0,101.3 35.5,103.2 C32.0,105.1 26.5,107.7 23.1,111.4 C19.6,115.0 16.2,122.9 14.8,125.2 M44.0,100.0 C42.7,100.6 39.5,101.8 36.3,103.9 C33.1,106.0 28.0,108.8 24.6,112.4 C21.3,116.1 17.5,123.6 16.1,125.9 M44.0,100.0 C42.9,100.8 40.1,102.4 37.1,104.6 C34.1,106.9 29.5,109.8 26.2,113.5 C22.9,117.1 18.8,124.4 17.4,126.6 M44.0,100.0 C43.0,100.9 40.6,102.9 37.9,105.4 C35.2,107.8 31.0,110.9 27.8,114.5 C24.6,118.2 20.2,125.2 18.6,127.4 M44.0,100.0 C43.1,101.0 41.1,103.5 38.7,106.1 C36.2,108.7 32.5,111.9 29.4,115.6 C26.2,119.2 21.5,126.0 19.9,128.1 M44.0,100.0 C43.2,101.1 41.6,104.1 39.5,106.8 C37.3,109.6 34.0,113.0 30.9,116.6 C27.9,120.3 22.8,126.8 21.2,128.8 M44.0,100.0 C43.4,101.3 42.2,104.6 40.3,107.6 C38.4,110.5 35.5,114.0 32.5,117.7 C29.6,121.4 24.1,127.6 22.4,129.6 M44.0,100.0 C43.5,101.4 42.7,105.2 41.1,108.3 C39.4,111.4 37.0,115.1 34.1,118.7 C31.2,122.4 25.4,128.4 23.7,130.3 M44.0,100.0 C43.6,101.5 43.2,105.8 41.8,109.1 C40.5,112.4 38.5,116.1 35.7,119.8 C32.9,123.5 26.7,129.2 24.9,131.1 M44.0,100.0 C43.8,101.6 43.8,106.3 42.6,109.8 C41.5,113.3 40.0,117.2 37.3,120.8 C34.5,124.5 28.1,130.0 26.2,131.8 M44.0,100.0 C43.9,101.8 44.3,106.9 43.4,110.5 C42.6,114.2 41.5,118.2 38.8,121.9 C36.2,125.6 29.4,130.8 27.5,132.5 M44.0,100.0 C44.0,101.9 44.8,107.4 44.2,111.3 C43.6,115.1 43.0,119.3 40.4,122.9 C37.8,126.6 30.7,131.5 28.7,133.3 M44.0,100.0 C44.2,102.0 45.3,108.0 45.0,112.0 C44.7,116.0 44.5,120.3 42.0,124.0 C39.5,127.7 32.0,132.3 30.0,134.0" fill="none" stroke="#141400" stroke-width="0.45" stroke-opacity="0.45" stroke-linecap="round"/>
<path d="M44.0,96.0 C45.0,98.3 48.0,104.3 50.0,110.0 C52.0,115.7 54.0,123.3 56.0,130.0 C58.0,136.7 61.0,146.7 62.0,150.0 M45.6,95.8 C46.6,98.2 49.7,104.3 51.6,110.0 C53.6,115.7 55.5,123.3 57.5,130.0 C59.4,136.7 62.5,146.7 63.5,150.0 M47.3,95.6 C48.3,98.0 51.3,104.3 53.3,110.0 C55.2,115.7 57.0,123.3 58.9,130.0 C60.8,136.7 63.9,146.7 64.9,150.0 M48.9,95.5 C49.9,97.9 53.0,104.2 54.9,110.0 C56.8,115.8 58.5,123.3 60.4,130.0 C62.3,136.7 65.4,146.7 66.4,150.0 M50.5,95.3 C51.5,97.7 54.7,104.2 56.5,110.0 C58.4,115.8 59.9,123.3 61.8,130.0 C63.7,136.7 66.8,146.7 67.8,150.0 M52.2,95.1 C53.2,97.6 56.3,104.2 58.2,110.0 C60.0,115.8 61.4,123.3 63.3,130.0 C65.1,136.7 68.3,146.7 69.3,150.0 M53.8,94.9 C54.8,97.4 58.0,104.2 59.8,110.0 C61.6,115.8 62.9,123.3 64.7,130.0 C66.5,136.7 69.7,146.7 70.7,150.0 M55.5,94.7 C56.5,97.3 59.7,104.1 61.5,110.0 C63.2,115.9 64.4,123.3 66.2,130.0 C68.0,136.7 71.2,146.7 72.2,150.0 M57.1,94.5 C58.1,97.1 61.3,104.1 63.1,110.0 C64.8,115.9 65.9,123.3 67.6,130.0 C69.4,136.7 72.6,146.7 73.6,150.0 M58.7,94.4 C59.7,97.0 63.0,104.1 64.7,110.0 C66.5,115.9 67.4,123.3 69.1,130.0 C70.8,136.7 74.1,146.7 75.1,150.0 M60.4,94.2 C61.4,96.8 64.7,104.0 66.4,110.0 C68.1,116.0 68.8,123.3 70.5,130.0 C72.2,136.7 75.5,146.7 76.5,150.0 M62.0,94.0 C63.0,96.7 66.3,104.0 68.0,110.0 C69.7,116.0 70.3,123.3 72.0,130.0 C73.7,136.7 77.0,146.7 78.0,150.0" fill="none" stroke="#141400" stroke-width="0.45" stroke-opacity="0.32" stroke-linecap="round"/>
<path d="M62.0,94.0 C63.7,95.7 69.0,100.3 72.0,104.0 C75.0,107.7 77.7,111.0 80.0,116.0 C82.3,121.0 85.0,131.0 86.0,134.0 M63.6,93.6 C65.3,95.2 70.9,99.6 74.0,103.2 C77.1,106.8 79.7,110.3 82.0,115.2 C84.3,120.1 87.0,129.5 88.0,132.4 M65.2,93.2 C67.0,94.7 72.9,98.9 76.0,102.4 C79.1,105.9 81.7,109.7 84.0,114.4 C86.3,119.1 89.0,128.1 90.0,130.8 M66.8,92.8 C68.7,94.3 74.8,98.1 78.0,101.6 C81.2,105.1 83.7,109.0 86.0,113.6 C88.3,118.2 91.0,126.6 92.0,129.2 M68.4,92.4 C70.3,93.8 76.7,97.4 80.0,100.8 C83.3,104.2 85.7,108.3 88.0,112.8 C90.3,117.3 93.0,125.1 94.0,127.6 M70.0,92.0 C72.0,93.3 78.7,96.7 82.0,100.0 C85.3,103.3 87.7,107.7 90.0,112.0 C92.3,116.3 95.0,123.7 96.0,126.0" fill="none" stroke="#141400" stroke-width="0.45" stroke-opacity="0.25" stroke-linecap="round"/>
<path d="M104.0,62.0 C106.7,62.7 114.7,64.7 120.0,66.0 C125.3,67.3 131.0,69.0 136.0,70.0 C141.0,71.0 147.7,71.7 150.0,72.0 M104.1,63.9 C106.8,64.7 114.6,67.3 119.9,68.9 C125.1,70.6 130.7,72.4 135.7,73.6 C140.8,74.8 147.6,75.6 150.0,76.0 M104.3,65.7 C106.8,66.8 114.5,70.0 119.7,71.9 C124.9,73.8 130.4,75.8 135.5,77.2 C140.5,78.6 147.6,79.5 150.0,80.0 M104.4,67.6 C106.9,68.8 114.5,72.6 119.6,74.8 C124.7,77.0 130.1,79.3 135.2,80.8 C140.3,82.3 147.5,83.5 150.0,84.0 M104.5,69.5 C107.0,70.8 114.4,75.2 119.5,77.7 C124.5,80.2 129.8,82.7 134.9,84.4 C140.0,86.1 147.5,87.4 150.0,88.0 M104.7,71.3 C107.1,72.9 114.3,77.9 119.3,80.7 C124.3,83.4 129.6,86.1 134.7,88.0 C139.8,89.9 147.4,91.3 150.0,92.0 M104.8,73.2 C107.2,74.9 114.3,80.5 119.2,83.6 C124.1,86.7 129.3,89.5 134.4,91.6 C139.5,93.7 147.4,95.3 150.0,96.0 M104.9,75.1 C107.3,77.0 114.2,83.2 119.1,86.5 C123.9,89.9 129.0,93.0 134.1,95.2 C139.3,97.4 147.4,99.2 150.0,100.0 M105.1,76.9 C107.4,79.0 114.1,85.8 118.9,89.5 C123.7,93.1 128.7,96.4 133.9,98.8 C139.0,101.2 147.3,103.1 150.0,104.0 M105.2,78.8 C107.5,81.1 114.1,88.5 118.8,92.4 C123.5,96.3 128.4,99.8 133.6,102.4 C138.8,105.0 147.3,107.1 150.0,108.0 M105.3,80.7 C107.6,83.1 114.0,91.1 118.7,95.3 C123.3,99.6 128.1,103.2 133.3,106.0 C138.6,108.8 147.2,111.0 150.0,112.0 M105.5,82.5 C107.6,85.2 113.9,93.8 118.5,98.3 C123.1,102.8 127.8,106.6 133.1,109.6 C138.3,112.6 147.2,114.9 150.0,116.0 M105.6,84.4 C107.7,87.2 113.9,96.4 118.4,101.2 C122.9,106.0 127.5,110.1 132.8,113.2 C138.1,116.3 147.1,118.9 150.0,120.0 M105.7,86.3 C107.8,89.2 113.8,99.0 118.3,104.1 C122.7,109.2 127.2,113.5 132.5,116.8 C137.8,120.1 147.1,122.8 150.0,124.0 M105.9,88.1 C107.9,91.3 113.7,101.7 118.1,107.1 C122.5,112.4 127.0,116.9 132.3,120.4 C137.6,123.9 147.0,126.7 150.0,128.0 M106.0,90.0 C108.0,93.3 113.7,104.3 118.0,110.0 C122.3,115.7 126.7,120.3 132.0,124.0 C137.3,127.7 147.0,130.7 150.0,132.0" fill="none" stroke="#141400" stroke-width="0.45" stroke-opacity="0.28" stroke-linecap="round"/>
<path d="M46.0,76.0 C48.0,75.0 54.3,72.0 58.0,70.0 C61.7,68.0 65.0,65.7 68.0,64.0 C71.0,62.3 74.7,60.7 76.0,60.0 M46.0,77.8 C48.0,76.9 54.4,74.4 58.2,72.7 C62.0,71.0 65.5,69.1 68.7,67.6 C71.8,66.0 75.7,64.0 77.1,63.3 M46.0,79.6 C48.1,78.9 54.6,76.7 58.4,75.3 C62.3,73.9 66.0,72.6 69.3,71.1 C72.6,69.7 76.7,67.4 78.2,66.7 M46.0,81.3 C48.1,80.8 54.7,79.1 58.7,78.0 C62.7,76.9 66.6,76.0 70.0,74.7 C73.4,73.3 77.8,70.8 79.3,70.0 M46.0,83.1 C48.1,82.7 54.8,81.5 58.9,80.7 C63.0,79.9 67.1,79.4 70.7,78.2 C74.3,77.0 78.8,74.1 80.4,73.3 M46.0,84.9 C48.2,84.6 54.9,83.9 59.1,83.3 C63.3,82.8 67.6,82.9 71.3,81.8 C75.1,80.7 79.9,77.5 81.6,76.7 M46.0,86.7 C48.2,86.6 55.0,86.2 59.3,86.0 C63.7,85.8 68.1,86.3 72.0,85.3 C75.9,84.3 80.9,80.9 82.7,80.0 M46.0,88.4 C48.3,88.5 55.1,88.6 59.6,88.7 C64.0,88.7 68.6,89.8 72.7,88.9 C76.7,88.0 81.9,84.3 83.8,83.3 M46.0,90.2 C48.3,90.4 55.2,91.0 59.8,91.3 C64.3,91.7 69.1,93.2 73.3,92.4 C77.5,91.7 83.0,87.6 84.9,86.7 M46.0,92.0 C48.3,92.3 55.3,93.3 60.0,94.0 C64.7,94.7 69.7,96.7 74.0,96.0 C78.3,95.3 84.0,91.0 86.0,90.0" fill="none" stroke="#141400" stroke-width="0.45" stroke-opacity="0.3" stroke-linecap="round"/>
<path d="M30.0,42.0 C30.0,43.7 29.0,48.3 30.0,52.0 C31.0,55.7 33.3,60.0 36.0,64.0 C38.7,68.0 44.3,74.0 46.0,76.0 M33.8,40.7 C33.9,42.3 33.4,47.0 34.4,50.7 C35.5,54.3 37.7,58.7 40.2,62.7 C42.7,66.6 47.8,72.3 49.3,74.2 M37.6,39.3 C37.8,41.0 37.7,45.7 38.9,49.3 C40.0,53.0 42.1,57.5 44.4,61.3 C46.7,65.2 51.3,70.6 52.7,72.4 M41.3,38.0 C41.7,39.7 42.1,44.3 43.3,48.0 C44.6,51.7 46.6,56.2 48.7,60.0 C50.8,63.8 54.8,68.9 56.0,70.7 M45.1,36.7 C45.6,38.3 46.5,43.0 47.8,46.7 C49.1,50.3 51.0,55.0 52.9,58.7 C54.8,62.4 58.3,67.2 59.3,68.9 M48.9,35.3 C49.4,37.0 50.9,41.7 52.2,45.3 C53.6,49.0 55.4,53.7 57.1,57.3 C58.9,61.0 61.7,65.5 62.7,67.1 M52.7,34.0 C53.3,35.7 55.2,40.3 56.7,44.0 C58.1,47.7 59.8,52.4 61.3,56.0 C62.9,59.6 65.2,63.8 66.0,65.3 M56.4,32.7 C57.2,34.3 59.6,39.0 61.1,42.7 C62.6,46.3 64.2,51.2 65.6,54.7 C66.9,58.1 68.7,62.1 69.3,63.6 M60.2,31.3 C61.1,33.0 64.0,37.7 65.6,41.3 C67.1,45.0 68.6,49.9 69.8,53.3 C71.0,56.7 72.2,60.4 72.7,61.8 M64.0,30.0 C65.0,31.7 68.3,36.3 70.0,40.0 C71.7,43.7 73.0,48.7 74.0,52.0 C75.0,55.3 75.7,58.7 76.0,60.0" fill="none" stroke="#141400" stroke-width="0.45" stroke-opacity="0.3" stroke-linecap="round"/>
<path d="M28,26 C36,20 50,20 62,26 C68,32 72,42 76,56 L74,62 C66,68 56,74 46,76 C40,66 32,54 30,44 Z" fill="#4a4a00" fill-opacity="0.066"/><path d="M28,26 C36,20 50,20 62,26 C68,32 72,42 76,56 L74,62 C66,68 56,74 46,76 C40,66 32,54 30,44 Z" fill="url(#hatch)" opacity="0.165"/>
<path d="M46,76 C56,72 66,64 76,60 C80,66 84,74 86,84 C84,92 80,96 74,96 C64,96 54,94 46,92 Z" fill="#4a4a00" fill-opacity="0.077"/><path d="M46,76 C56,72 66,64 76,60 C80,66 84,74 86,84 C84,92 80,96 74,96 C64,96 54,94 46,92 Z" fill="url(#hatch)" opacity="0.193"/>
<ellipse cx="128.5" cy="61.2" rx="3.8" ry="4.6" fill="#b2e45e" fill-opacity="0.9" transform="rotate(0 128.5 61.2)"/>
<path d="M29,38 C34,44 42,46 48,46 C55,46 62,43 64,38 C64,48 60,56 50,58 C40,58 32,52 29,38 Z" fill="#3a3a00" fill-opacity="0.22"/>
<ellipse cx="48" cy="49" rx="8.5" ry="6.5" fill="#8a8a18" fill-opacity="0.45" transform="rotate(0 48 49)"/>
<ellipse cx="46.5" cy="33.5" rx="16.8" ry="8" fill="#bcec50" fill-opacity="0.9" transform="rotate(0 46.5 33.5)"/>
<ellipse cx="48.4" cy="45.5" rx="8.5" ry="5" fill="#1e1e00" fill-opacity="0.5" transform="rotate(0 48.4 45.5)"/>
<ellipse cx="48.4" cy="48.4" rx="4.4" ry="2.0" fill="#c85222" fill-opacity="0.95" transform="rotate(0 48.4 48.4)"/>
<path d="M55.7,22.8 C59,25 62,28.5 64,32 C66,35 67,38 67.6,41.2" fill="none" stroke="#141400" stroke-width="1.6" stroke-opacity="0.55" stroke-linecap="round" stroke-linejoin="round" />
<path d="M29.7,33.6 C32,36 35,39 40.5,42.3" fill="none" stroke="#141400" stroke-width="1.6" stroke-opacity="0.55" stroke-linecap="round" stroke-linejoin="round" />
<path d="M12.2,3.4 C14,1.5 17,0.5 20.3,1.4 C22.5,2.2 24,3.8 25,6 C26.5,9 27.5,13 27.7,17.6 C27.8,21 27,24 27.2,27.5 C27.5,31 29.5,33.5 32.4,35" fill="none" stroke="#141400" stroke-width="2.5" stroke-opacity="0.62" stroke-linecap="round" stroke-linejoin="round" />
<path d="M30.3,41 C29,46 30,50 34,52 C38,55 42,57 46,58" fill="none" stroke="#141400" stroke-width="1.6" stroke-opacity="0.6" stroke-linecap="round" stroke-linejoin="round" />
<path d="M26,34 C32,28 40,26 48,26 C56,26 62,29 66,32" fill="none" stroke="#141400" stroke-width="1.3" stroke-opacity="0.45" stroke-linecap="round" stroke-linejoin="round" />
<path d="M54,0 C52,6 52,12 53,18 C54,24 57,28 61,31" fill="none" stroke="#141400" stroke-width="1.4" stroke-opacity="0.45" stroke-linecap="round" stroke-linejoin="round" />
<path d="M66,30 C70,40 73,50 76.8,58" fill="none" stroke="#141400" stroke-width="1.6" stroke-opacity="0.6" stroke-linecap="round" stroke-linejoin="round" />
<path d="M76.8,58 C82,54 88,50 94,46 C97,44 100,42 102,40.5" fill="none" stroke="#141400" stroke-width="1.7" stroke-opacity="0.65" stroke-linecap="round" stroke-linejoin="round" />
<path d="M74.6,60.3 C66,66 58,72 50,78 C46,81 44,84 43,87" fill="none" stroke="#141400" stroke-width="1.5" stroke-opacity="0.55" stroke-linecap="round" stroke-linejoin="round" />
<path d="M72,57.3 L126,56.5" fill="none" stroke="#141400" stroke-width="2.0" stroke-opacity="0.85" stroke-linecap="round" stroke-linejoin="round" />
<path d="M78,62.5 C90,63.8 108,64.2 124,63" fill="none" stroke="#141400" stroke-width="0.8" stroke-opacity="0.45" stroke-linecap="round" stroke-linejoin="round" />
<ellipse cx="125.5" cy="55.5" rx="4.2" ry="3.2" fill="#000" fill-opacity="0.92" transform="rotate(-20 125.5 55.5)"/>
<ellipse cx="76.5" cy="58.5" rx="3.2" ry="2.6" fill="#000" fill-opacity="0.9" transform="rotate(0 76.5 58.5)"/>
<path d="M124,58.4 C119,66 114,73 109,80 C106,84 103,86 101.4,87.3" fill="none" stroke="#141400" stroke-width="2.0" stroke-opacity="0.8" stroke-linecap="round" stroke-linejoin="round" />
<path d="M101,87.3 C99,100 96,112 92.5,123 C100,124.5 106,124.5 114,123.5 C109,112 104,100 101,87.3 Z" fill="#2a1000" fill-opacity="0.45"/>
<path d="M99.8,111 C100.8,109 102.2,109 103.2,111 C104.5,115 106,119.5 108,123 C104,124.3 99.5,124.3 95.8,123 C97.5,119.5 98.8,115 99.8,111 Z" fill="#050300" fill-opacity="0.85"/>
<path d="M101,87.3 C99,100 96,112 92.5,123" fill="none" stroke="#141400" stroke-width="1.2" stroke-opacity="0.7" stroke-linecap="round" stroke-linejoin="round" />
<path d="M101,87.3 C104,100 109,112 114,123.5" fill="none" stroke="#141400" stroke-width="1.2" stroke-opacity="0.7" stroke-linecap="round" stroke-linejoin="round" />
<path d="M92.5,123 C88,128 84,134 80,140" fill="none" stroke="#141400" stroke-width="1.0" stroke-opacity="0.4" stroke-linecap="round" stroke-linejoin="round" />
<path d="M114,123.5 C120,126 126,128 132,128" fill="none" stroke="#141400" stroke-width="1.0" stroke-opacity="0.4" stroke-linecap="round" stroke-linejoin="round" />
<path d="M109.0,87.0 C112.0,88.3 121.7,94.8 127.0,95.0 C132.3,95.2 137.8,90.7 141.0,88.0 C144.2,85.3 145.2,80.5 146.0,79.0 M109.2,88.7 C112.2,90.0 121.6,96.6 126.9,96.8 C132.2,97.0 137.7,92.7 140.9,90.1 C144.2,87.5 145.4,82.7 146.3,81.2 M109.4,90.3 C112.3,91.7 121.6,98.3 126.9,98.6 C132.1,98.9 137.6,94.8 140.9,92.3 C144.1,89.7 145.6,84.9 146.5,83.4 M109.6,92.0 C112.5,93.4 121.6,100.0 126.8,100.4 C132.0,100.8 137.5,96.9 140.8,94.4 C144.1,91.9 145.8,87.1 146.8,85.6 M109.8,93.7 C112.6,95.1 121.6,101.7 126.7,102.2 C131.9,102.7 137.3,98.9 140.7,96.5 C144.1,94.1 146.0,89.3 147.1,87.8 M110.0,95.3 C112.8,96.8 121.6,103.4 126.7,104.0 C131.8,104.6 137.2,101.0 140.7,98.7 C144.1,96.3 146.2,91.4 147.3,90.0 M110.2,97.0 C112.9,98.5 121.5,105.2 126.6,105.8 C131.7,106.4 137.1,103.1 140.6,100.8 C144.1,98.5 146.4,93.6 147.6,92.2 M110.4,98.7 C113.1,100.2 121.5,106.9 126.5,107.6 C131.6,108.3 137.0,105.1 140.5,102.9 C144.1,100.7 146.6,95.8 147.9,94.4 M110.6,100.3 C113.2,101.8 121.5,108.6 126.5,109.4 C131.4,110.2 136.9,107.2 140.5,105.1 C144.1,102.9 146.9,98.0 148.1,96.6 M110.8,102.0 C113.4,103.5 121.5,110.3 126.4,111.2 C131.3,112.1 136.7,109.3 140.4,107.2 C144.1,105.1 147.1,100.2 148.4,98.8 M111.0,103.7 C113.6,105.2 121.4,112.1 126.3,113.0 C131.2,113.9 136.6,111.3 140.3,109.3 C144.1,107.3 147.3,102.4 148.7,101.0 M111.2,105.3 C113.7,106.9 121.4,113.8 126.3,114.8 C131.1,115.8 136.5,113.4 140.3,111.5 C144.0,109.5 147.5,104.6 148.9,103.2 M111.4,107.0 C113.9,108.6 121.4,115.5 126.2,116.6 C131.0,117.7 136.4,115.5 140.2,113.6 C144.0,111.7 147.7,106.8 149.2,105.4 M111.6,108.7 C114.0,110.3 121.4,117.2 126.1,118.4 C130.9,119.6 136.2,117.5 140.1,115.7 C144.0,113.9 147.9,109.0 149.5,107.6 M111.8,110.3 C114.2,112.0 121.4,118.9 126.1,120.2 C130.8,121.5 136.1,119.6 140.1,117.9 C144.0,116.1 148.1,111.1 149.7,109.8 M112.0,112.0 C114.3,113.7 121.3,120.7 126.0,122.0 C130.7,123.3 136.0,121.7 140.0,120.0 C144.0,118.3 148.3,113.3 150.0,112.0" fill="none" stroke="#141400" stroke-width="0.4" stroke-opacity="0.3" stroke-linecap="round"/>
<path d="M72,116 C80,118 88,120 93,123 L92,150 L76,150 C75,140 74,128 72,116 Z" fill="#4a4a00" fill-opacity="0.077"/><path d="M72,116 C80,118 88,120 93,123 L92,150 L76,150 C75,140 74,128 72,116 Z" fill="url(#hatch)" opacity="0.193"/>
<path d="M76.0,92.0 C76.3,95.0 77.3,103.7 78.0,110.0 C78.7,116.3 79.3,123.3 80.0,130.0 C80.7,136.7 81.7,146.7 82.0,150.0 M77.6,92.9 C77.9,95.8 78.9,104.4 79.6,110.6 C80.2,116.7 80.8,123.4 81.3,130.0 C81.9,136.6 82.6,146.7 82.9,150.0 M79.1,93.8 C79.4,96.7 80.5,105.1 81.1,111.1 C81.7,117.1 82.2,123.5 82.7,130.0 C83.1,136.5 83.6,146.7 83.8,150.0 M80.7,94.7 C81.0,97.5 82.1,105.8 82.7,111.7 C83.2,117.6 83.7,123.6 84.0,130.0 C84.3,136.4 84.6,146.7 84.7,150.0 M82.2,95.6 C82.6,98.3 83.7,106.5 84.2,112.2 C84.7,118.0 85.1,123.7 85.3,130.0 C85.6,136.3 85.5,146.7 85.6,150.0 M83.8,96.4 C84.1,99.2 85.3,107.2 85.8,112.8 C86.3,118.4 86.6,123.8 86.7,130.0 C86.8,136.2 86.5,146.7 86.4,150.0 M85.3,97.3 C85.7,100.0 86.9,107.9 87.3,113.3 C87.8,118.8 88.0,123.9 88.0,130.0 C88.0,136.1 87.4,146.7 87.3,150.0 M86.9,98.2 C87.2,100.8 88.5,108.6 88.9,113.9 C89.3,119.2 89.4,124.0 89.3,130.0 C89.2,136.0 88.4,146.7 88.2,150.0 M88.4,99.1 C88.8,101.7 90.1,109.3 90.4,114.4 C90.8,119.6 90.9,124.1 90.7,130.0 C90.4,135.9 89.4,146.7 89.1,150.0 M90.0,100.0 C90.3,102.5 91.7,110.0 92.0,115.0 C92.3,120.0 92.3,124.2 92.0,130.0 C91.7,135.8 90.3,146.7 90.0,150.0" fill="none" stroke="#141400" stroke-width="0.4" stroke-opacity="0.35" stroke-linecap="round"/>
<path d="M62,94 C70,100 78,110 84,122 C86,132 88,140 90,150 L62,150 C58,138 52,122 46,108 Z" fill="#4a4a00" fill-opacity="0.055"/><path d="M62,94 C70,100 78,110 84,122 C86,132 88,140 90,150 L62,150 C58,138 52,122 46,108 Z" fill="url(#hatch)" opacity="0.138"/>
<ellipse cx="101.4" cy="87.5" rx="2" ry="2.2" fill="#000" fill-opacity="0.9" transform="rotate(0 101.4 87.5)"/>
<path d="M108,81 C113,86 119,93 127,95 C134,96 139,91 142,86 C144,83 145,80 146,78" fill="none" stroke="#141400" stroke-width="1.5" stroke-opacity="0.7" stroke-linecap="round" stroke-linejoin="round" />
<path d="M126,95 C128,102 130,109 131.4,116" fill="none" stroke="#141400" stroke-width="1.4" stroke-opacity="0.55" stroke-linecap="round" stroke-linejoin="round" />
<path d="M136,70 C140,74 142,78 142,82" fill="none" stroke="#141400" stroke-width="1.2" stroke-opacity="0.45" stroke-linecap="round" stroke-linejoin="round" />
<path d="M0,92.7 C6,92 10,91.8 13,91.6 C18,90.5 22,89.5 26,89.5 C31,89.5 35,90.5 39,91.6 C43,93 45,94 47.6,95.5 C51,96.5 54,97 57,100 C60,103 61.5,108 62.5,113 C63,118 61,121.5 58,122.8 C55,124 52,123.5 49.7,122.5" fill="none" stroke="#141400" stroke-width="1.7" stroke-opacity="0.72" stroke-linecap="round" stroke-linejoin="round" />
<path d="M6.5,120 C8,125 10,128 13,130.5 C17,133 21,135 26,135 C31,135 35,132 39,128.4 C41,126 42,124 43,122" fill="none" stroke="#141400" stroke-width="2.0" stroke-opacity="0.72" stroke-linecap="round" stroke-linejoin="round" />
<ellipse cx="40.5" cy="111" rx="2.4" ry="7.2" fill="#000" fill-opacity="0.92" transform="rotate(0 40.5 111)"/>
<path d="M41,67 L50,73.5" fill="none" stroke="#141400" stroke-width="2.4" stroke-opacity="0.75" stroke-linecap="round" stroke-linejoin="round" />
<ellipse cx="70.8" cy="82.2" rx="3.8" ry="6" fill="#0c0c28" fill-opacity="0.9" transform="rotate(-10 70.8 82.2)"/>
<ellipse cx="72.5" cy="84" rx="1.6" ry="2.5" fill="#5038c0" fill-opacity="0.8" transform="rotate(0 72.5 84)"/>
<path d="M30,41 C30,34 38,28 46,27.5 C54,27 61,30 63,36 C64,42 62,48 58,52" fill="none" stroke="#141400" stroke-width="1.0" stroke-opacity="0.3" stroke-linecap="round" stroke-linejoin="round" />
<ellipse cx="42.2" cy="41" rx="1.8" ry="1.8" fill="#000" fill-opacity="0.92" transform="rotate(0 42.2 41)"/>
<ellipse cx="55.1" cy="40.4" rx="1.8" ry="1.8" fill="#000" fill-opacity="0.92" transform="rotate(0 55.1 40.4)"/>
<ellipse cx="42.2" cy="49.3" rx="1.8" ry="1.8" fill="#000" fill-opacity="0.92" transform="rotate(0 42.2 49.3)"/>
<ellipse cx="55.1" cy="49.3" rx="1.8" ry="1.8" fill="#000" fill-opacity="0.92" transform="rotate(0 55.1 49.3)"/>
<ellipse cx="43.2" cy="56.6" rx="1.8" ry="1.8" fill="#000" fill-opacity="0.92" transform="rotate(0 43.2 56.6)"/></g>
</g>
<text x="1.0" y="12.3" font-family="Liberation Serif, serif" font-size="13.4" fill="#1a1a1a" stroke="#1a1a1a" stroke-width="0.2">(b)</text>
</g>
<text x="208.4" y="166.8" text-anchor="middle" font-family="Liberation Serif, serif" font-weight="bold" font-size="8" stroke="#000" stroke-width="0.2">0</text>
<text x="206.0" y="159.8" text-anchor="end" font-family="Liberation Serif, serif" font-weight="bold" font-size="8" stroke="#000" stroke-width="0.2">0</text>
<path d="M208.4,7.2 v-1.6 M208.4,157.2 v1.3 M208.4,157.2 h-1.3 M358.4,157.2 h1.6" stroke="#b8b8c8" stroke-width="0.6"/>
<text x="228.6" y="166.8" text-anchor="middle" font-family="Liberation Serif, serif" font-weight="bold" font-size="8" stroke="#000" stroke-width="0.2">5</text>
<text x="206.0" y="139.6" text-anchor="end" font-family="Liberation Serif, serif" font-weight="bold" font-size="8" stroke="#000" stroke-width="0.2">5</text>
<path d="M228.6,7.2 v-1.6 M228.6,157.2 v1.3 M208.4,137.0 h-1.3 M358.4,137.0 h1.6" stroke="#b8b8c8" stroke-width="0.6"/>
<text x="248.7" y="166.8" text-anchor="middle" font-family="Liberation Serif, serif" font-weight="bold" font-size="8" stroke="#000" stroke-width="0.2">10</text>
<text x="206.0" y="119.5" text-anchor="end" font-family="Liberation Serif, serif" font-weight="bold" font-size="8" stroke="#000" stroke-width="0.2">10</text>
<path d="M248.7,7.2 v-1.6 M248.7,157.2 v1.3 M208.4,116.9 h-1.3 M358.4,116.9 h1.6" stroke="#b8b8c8" stroke-width="0.6"/>
<text x="268.9" y="166.8" text-anchor="middle" font-family="Liberation Serif, serif" font-weight="bold" font-size="8" stroke="#000" stroke-width="0.2">15</text>
<text x="206.0" y="99.3" text-anchor="end" font-family="Liberation Serif, serif" font-weight="bold" font-size="8" stroke="#000" stroke-width="0.2">15</text>
<path d="M268.9,7.2 v-1.6 M268.9,157.2 v1.3 M208.4,96.7 h-1.3 M358.4,96.7 h1.6" stroke="#b8b8c8" stroke-width="0.6"/>
<text x="289.0" y="166.8" text-anchor="middle" font-family="Liberation Serif, serif" font-weight="bold" font-size="8" stroke="#000" stroke-width="0.2">20</text>
<text x="206.0" y="79.2" text-anchor="end" font-family="Liberation Serif, serif" font-weight="bold" font-size="8" stroke="#000" stroke-width="0.2">20</text>
<path d="M289.0,7.2 v-1.6 M289.0,157.2 v1.3 M208.4,76.6 h-1.3 M358.4,76.6 h1.6" stroke="#b8b8c8" stroke-width="0.6"/>
<text x="309.1" y="166.8" text-anchor="middle" font-family="Liberation Serif, serif" font-weight="bold" font-size="8" stroke="#000" stroke-width="0.2">25</text>
<text x="206.0" y="59.0" text-anchor="end" font-family="Liberation Serif, serif" font-weight="bold" font-size="8" stroke="#000" stroke-width="0.2">25</text>
<path d="M309.1,7.2 v-1.6 M309.1,157.2 v1.3 M208.4,56.4 h-1.3 M358.4,56.4 h1.6" stroke="#b8b8c8" stroke-width="0.6"/>
<text x="329.3" y="166.8" text-anchor="middle" font-family="Liberation Serif, serif" font-weight="bold" font-size="8" stroke="#000" stroke-width="0.2">30</text>
<text x="206.0" y="38.9" text-anchor="end" font-family="Liberation Serif, serif" font-weight="bold" font-size="8" stroke="#000" stroke-width="0.2">30</text>
<path d="M329.3,7.2 v-1.6 M329.3,157.2 v1.3 M208.4,36.3 h-1.3 M358.4,36.3 h1.6" stroke="#b8b8c8" stroke-width="0.6"/>
<text x="349.5" y="166.8" text-anchor="middle" font-family="Liberation Serif, serif" font-weight="bold" font-size="8" stroke="#000" stroke-width="0.2">35</text>
<text x="206.0" y="18.7" text-anchor="end" font-family="Liberation Serif, serif" font-weight="bold" font-size="8" stroke="#000" stroke-width="0.2">35</text>
<path d="M349.5,7.2 v-1.6 M349.5,157.2 v1.3 M208.4,16.1 h-1.3 M358.4,16.1 h1.6" stroke="#b8b8c8" stroke-width="0.6"/>
<rect x="208.4" y="7.2" width="150.0" height="150.0" fill="none" stroke="#c4c4cc" stroke-width="0.6"/>
<text x="281.0" y="177.6" text-anchor="middle" font-family="Liberation Serif, serif" font-size="10.4" stroke="#111" stroke-width="0.25">y(km)</text>
<text transform="translate(196.6,82.8) rotate(-90)" text-anchor="middle" font-family="Liberation Serif, serif" font-size="10" stroke="#111" stroke-width="0.25">x(km)</text><g transform="translate(394.3,7.2)">
<g clip-path="url(#clip)">
<use href="#field" transform="translate(0,-0.6)"/>
<g filter="url(#soft)"><path d="M0,0 L19,0 C23,6 26,14 26,24 L0,24 Z" fill="#4a4a00" fill-opacity="0.055"/><path d="M0,0 L19,0 C23,6 26,14 26,24 L0,24 Z" fill="url(#hatch)" opacity="0.138"/>
<path d="M0,26 C6,22 14,20 22,22 C26,30 28,40 30,50 C34,60 40,68 46,74 C44,84 42,92 44,100 L30,100 C20,96 10,94 0,96 Z" fill="#4a4a00" fill-opacity="0.066"/><path d="M0,26 C6,22 14,20 22,22 C26,30 28,40 30,50 C34,60 40,68 46,74 C44,84 42,92 44,100 L30,100 C20,96 10,94 0,96 Z" fill="url(#hatch)" opacity="0.165"/>
<path d="M0.0,24.0 C1.0,26.7 5.3,34.0 6.0,40.0 C6.7,46.0 3.7,53.3 4.0,60.0 C4.3,66.7 8.0,74.0 8.0,80.0 C8.0,86.0 4.7,93.3 4.0,96.0 M1.7,24.0 C2.7,26.7 6.9,34.0 7.6,40.0 C8.3,46.0 5.7,53.4 6.1,60.0 C6.6,66.6 10.3,73.7 10.4,79.7 C10.5,85.8 7.3,93.4 6.7,96.1 M3.5,24.0 C4.4,26.7 8.4,34.0 9.2,40.0 C10.0,46.0 7.7,53.4 8.3,60.0 C8.9,66.6 12.6,73.4 12.8,79.5 C13.0,85.5 9.9,93.5 9.3,96.3 M5.2,24.0 C6.1,26.7 9.9,34.0 10.8,40.0 C11.7,46.0 9.7,53.5 10.4,60.0 C11.1,66.5 14.9,73.1 15.2,79.2 C15.5,85.3 12.5,93.5 12.0,96.4 M6.9,24.0 C7.8,26.7 11.5,34.0 12.4,40.0 C13.3,46.0 11.7,53.5 12.5,60.0 C13.4,66.5 17.2,72.8 17.6,78.9 C18.0,85.0 15.2,93.6 14.7,96.5 M8.7,24.0 C9.6,26.7 13.0,34.0 14.0,40.0 C15.0,46.0 13.7,53.6 14.7,60.0 C15.7,66.4 19.6,72.6 20.0,78.7 C20.4,84.8 17.8,93.7 17.3,96.7 M10.4,24.0 C11.3,26.7 14.5,34.0 15.6,40.0 C16.7,46.0 15.7,53.6 16.8,60.0 C17.9,66.4 21.9,72.3 22.4,78.4 C22.9,84.5 20.4,93.7 20.0,96.8 M12.1,24.0 C13.0,26.7 16.1,34.0 17.2,40.0 C18.3,46.0 17.7,53.6 18.9,60.0 C20.2,66.4 24.2,72.0 24.8,78.1 C25.4,84.3 23.0,93.8 22.7,96.9 M13.9,24.0 C14.7,26.7 17.6,34.0 18.8,40.0 C20.0,46.0 19.7,53.7 21.1,60.0 C22.5,66.3 26.5,71.7 27.2,77.9 C27.9,84.0 25.6,93.9 25.3,97.1 M15.6,24.0 C16.4,26.7 19.1,34.0 20.4,40.0 C21.7,46.0 21.7,53.7 23.2,60.0 C24.7,66.3 28.8,71.4 29.6,77.6 C30.4,83.8 28.3,93.9 28.0,97.2 M17.3,24.0 C18.1,26.7 20.7,34.0 22.0,40.0 C23.3,46.0 23.7,53.8 25.3,60.0 C27.0,66.2 31.1,71.1 32.0,77.3 C32.9,83.6 30.9,94.0 30.7,97.3 M19.1,24.0 C19.8,26.7 22.2,34.0 23.6,40.0 C25.0,46.0 25.7,53.8 27.5,60.0 C29.3,66.2 33.4,70.8 34.4,77.1 C35.4,83.3 33.5,94.1 33.3,97.5 M20.8,24.0 C21.5,26.7 23.7,34.0 25.2,40.0 C26.7,46.0 27.7,53.9 29.6,60.0 C31.5,66.1 35.7,70.5 36.8,76.8 C37.9,83.1 36.1,94.1 36.0,97.6 M22.5,24.0 C23.2,26.7 25.3,34.0 26.8,40.0 C28.3,46.0 29.7,53.9 31.7,60.0 C33.8,66.1 38.0,70.2 39.2,76.5 C40.4,82.8 38.8,94.2 38.7,97.7 M24.3,24.0 C25.0,26.7 26.8,34.0 28.4,40.0 C30.0,46.0 31.7,54.0 33.9,60.0 C36.1,66.0 40.4,70.0 41.6,76.3 C42.8,82.6 41.4,94.3 41.3,97.9 M26.0,24.0 C26.7,26.7 28.3,34.0 30.0,40.0 C31.7,46.0 33.7,54.0 36.0,60.0 C38.3,66.0 42.7,69.7 44.0,76.0 C45.3,82.3 44.0,94.3 44.0,98.0" fill="none" stroke="#141400" stroke-width="0.45" stroke-opacity="0.25" stroke-linecap="round"/>
<path d="M0.0,30.0 C1.7,30.7 6.7,34.0 10.0,34.0 C13.3,34.0 17.0,29.7 20.0,30.0 C23.0,30.3 26.7,35.0 28.0,36.0 M0.0,35.5 C1.7,36.0 6.8,38.8 10.2,38.7 C13.6,38.6 17.3,34.6 20.5,34.9 C23.8,35.2 28.0,39.8 29.5,40.7 M0.0,40.9 C1.7,41.3 6.8,43.6 10.4,43.5 C13.9,43.3 17.7,39.5 21.1,39.8 C24.5,40.2 29.3,44.5 30.9,45.5 M0.0,46.4 C1.8,46.7 6.9,48.5 10.5,48.2 C14.2,47.9 18.0,44.4 21.6,44.7 C25.3,45.1 30.6,49.3 32.4,50.2 M0.0,51.8 C1.8,52.0 7.0,53.3 10.7,52.9 C14.4,52.5 18.3,49.3 22.2,49.6 C26.0,50.0 31.9,54.0 33.8,54.9 M0.0,57.3 C1.8,57.3 7.1,58.1 10.9,57.6 C14.7,57.2 18.7,54.2 22.7,54.5 C26.8,54.9 33.2,58.8 35.3,59.6 M0.0,62.7 C1.8,62.7 7.2,62.9 11.1,62.4 C15.0,61.8 19.0,59.1 23.3,59.5 C27.5,59.8 34.5,63.5 36.7,64.4 M0.0,68.2 C1.9,68.0 7.3,67.7 11.3,67.1 C15.2,66.5 19.3,64.0 23.8,64.4 C28.3,64.7 35.8,68.3 38.2,69.1 M0.0,73.6 C1.9,73.3 7.4,72.5 11.5,71.8 C15.5,71.1 19.7,68.9 24.4,69.3 C29.1,69.6 37.1,73.1 39.6,73.8 M0.0,79.1 C1.9,78.7 7.5,77.4 11.6,76.5 C15.8,75.7 20.0,73.8 24.9,74.2 C29.8,74.5 38.4,77.8 41.1,78.5 M0.0,84.5 C2.0,84.0 7.6,82.2 11.8,81.3 C16.1,80.4 20.3,78.8 25.5,79.1 C30.6,79.4 39.7,82.6 42.5,83.3 M0.0,90.0 C2.0,89.3 7.7,87.0 12.0,86.0 C16.3,85.0 20.7,83.7 26.0,84.0 C31.3,84.3 41.0,87.3 44.0,88.0" fill="none" stroke="#141400" stroke-width="0.4" stroke-opacity="0.18" stroke-linecap="round"/>
<path d="M46.0,28.0 C44.7,26.7 40.2,22.8 38.0,20.0 C35.8,17.2 33.2,13.8 33.0,11.0 C32.8,8.2 36.3,4.3 37.0,3.0 M46.0,28.0 C44.9,26.7 41.0,22.8 39.1,20.0 C37.2,17.2 34.8,13.8 34.7,11.0 C34.5,8.2 37.6,4.3 38.2,2.9 M46.0,28.0 C45.0,26.7 41.9,22.8 40.3,20.0 C38.7,17.2 36.5,13.9 36.3,11.0 C36.2,8.1 38.9,4.2 39.4,2.9 M46.0,28.0 C45.2,26.7 42.7,22.8 41.4,20.0 C40.1,17.2 38.1,13.9 38.0,11.0 C37.9,8.1 40.2,4.2 40.6,2.8 M46.0,28.0 C45.4,26.7 43.6,22.8 42.5,20.0 C41.5,17.2 39.8,13.9 39.7,11.0 C39.5,8.1 41.4,4.1 41.8,2.7 M46.0,28.0 C45.6,26.7 44.4,22.8 43.7,20.0 C42.9,17.2 41.4,13.9 41.3,11.0 C41.2,8.1 42.7,4.1 43.0,2.7 M46.0,28.0 C45.8,26.7 45.3,22.8 44.8,20.0 C44.3,17.2 43.1,13.9 43.0,11.0 C42.9,8.1 44.0,4.0 44.2,2.6 M46.0,28.0 C46.0,26.7 46.2,22.8 45.9,20.0 C45.7,17.2 44.8,13.9 44.7,11.0 C44.6,8.1 45.3,3.9 45.4,2.5 M46.0,28.0 C46.2,26.7 47.0,22.8 47.1,20.0 C47.1,17.2 46.4,13.9 46.3,11.0 C46.3,8.1 46.6,3.9 46.6,2.5 M46.0,28.0 C46.4,26.7 47.9,22.8 48.2,20.0 C48.5,17.2 48.1,13.9 48.0,11.0 C47.9,8.1 47.8,3.8 47.8,2.4 M46.0,28.0 C46.6,26.7 48.7,22.8 49.3,20.0 C49.9,17.2 49.7,13.9 49.7,11.0 C49.6,8.1 49.1,3.8 49.0,2.3 M46.0,28.0 C46.7,26.7 49.6,22.8 50.5,20.0 C51.4,17.2 51.4,14.0 51.3,11.0 C51.3,8.0 50.4,3.7 50.2,2.3 M46.0,28.0 C46.9,26.7 50.4,22.8 51.6,20.0 C52.8,17.2 53.0,14.0 53.0,11.0 C53.0,8.0 51.7,3.7 51.4,2.2 M46.0,28.0 C47.1,26.7 51.3,22.8 52.7,20.0 C54.2,17.2 54.7,14.0 54.7,11.0 C54.6,8.0 52.9,3.6 52.6,2.1 M46.0,28.0 C47.3,26.7 52.1,22.8 53.9,20.0 C55.6,17.2 56.3,14.0 56.3,11.0 C56.3,8.0 54.2,3.6 53.8,2.1 M46.0,28.0 C47.5,26.7 53.0,22.8 55.0,20.0 C57.0,17.2 58.0,14.0 58.0,11.0 C58.0,8.0 55.5,3.5 55.0,2.0" fill="none" stroke="#141400" stroke-width="0.45" stroke-opacity="0.2" stroke-linecap="round"/>
<path d="M112,0 L124,0 C118,14 110,30 102,46 C98,52 94,56 90,58 L84,54 C90,44 98,30 104,16 C108,8 110,4 112,0 Z" fill="#4a4a00" fill-opacity="0.033"/><path d="M112,0 L124,0 C118,14 110,30 102,46 C98,52 94,56 90,58 L84,54 C90,44 98,30 104,16 C108,8 110,4 112,0 Z" fill="url(#hatch)" opacity="0.083"/>
<path d="M112.0,0.0 C110.7,2.7 106.7,10.7 104.0,16.0 C101.3,21.3 99.0,26.3 96.0,32.0 C93.0,37.7 87.7,47.0 86.0,50.0 M113.7,0.0 C112.4,2.7 108.4,10.6 105.7,16.0 C103.0,21.4 100.6,26.5 97.6,32.3 C94.5,38.0 89.0,47.5 87.3,50.6 M115.4,0.0 C114.1,2.7 110.1,10.6 107.4,16.0 C104.7,21.4 102.3,26.7 99.1,32.6 C96.0,38.4 90.3,48.0 88.6,51.1 M117.1,0.0 C115.8,2.7 111.9,10.5 109.1,16.0 C106.4,21.5 103.9,26.9 100.7,32.9 C97.5,38.8 91.7,48.6 89.9,51.7 M118.9,0.0 C117.5,2.7 113.6,10.5 110.9,16.0 C108.1,21.5 105.6,27.1 102.3,33.1 C99.0,39.2 93.0,49.1 91.1,52.3 M120.6,0.0 C119.2,2.7 115.4,10.4 112.6,16.0 C109.8,21.6 107.2,27.3 103.9,33.4 C100.5,39.6 94.3,49.6 92.4,52.9 M122.3,0.0 C121.0,2.7 117.1,10.4 114.3,16.0 C111.5,21.6 108.9,27.5 105.4,33.7 C102.0,40.0 95.7,50.1 93.7,53.4 M124.0,0.0 C122.7,2.7 118.8,10.3 116.0,16.0 C113.2,21.7 110.5,27.7 107.0,34.0 C103.5,40.3 97.0,50.7 95.0,54.0" fill="none" stroke="#141400" stroke-width="0.4" stroke-opacity="0.22" stroke-linecap="round"/>
<path d="M112.0,0.0 C110.7,2.7 106.7,10.7 104.0,16.0 C101.3,21.3 99.0,26.3 96.0,32.0 C93.0,37.7 87.7,47.0 86.0,50.0 M124.0,0.0 C122.7,2.7 118.8,10.3 116.0,16.0 C113.2,21.7 110.5,27.7 107.0,34.0 C103.5,40.3 97.0,50.7 95.0,54.0" fill="none" stroke="#141400" stroke-width="1.5" stroke-opacity="0.5" stroke-linecap="round" stroke-dasharray="0.2 1.9"/>
<path d="M82.0,20.0 C81.2,21.2 78.7,24.8 77.0,27.0 C75.3,29.2 73.5,31.0 72.0,33.0 C70.5,35.0 68.7,38.0 68.0,39.0 M82.8,20.6 C82.0,21.8 79.5,25.4 77.8,27.6 C76.1,29.8 74.3,31.6 72.8,33.6 C71.3,35.6 69.5,38.4 68.8,39.4 M83.6,21.2 C82.8,22.4 80.3,26.0 78.6,28.2 C76.9,30.4 75.1,32.3 73.6,34.2 C72.1,36.1 70.3,38.9 69.6,39.8 M84.4,21.8 C83.6,23.0 81.1,26.6 79.4,28.8 C77.7,31.0 75.9,32.9 74.4,34.8 C72.9,36.7 71.1,39.3 70.4,40.2 M85.2,22.4 C84.4,23.6 81.9,27.2 80.2,29.4 C78.5,31.6 76.7,33.5 75.2,35.4 C73.7,37.3 71.9,39.7 71.2,40.6 M86.0,23.0 C85.2,24.2 82.7,27.8 81.0,30.0 C79.3,32.2 77.5,34.2 76.0,36.0 C74.5,37.8 72.7,40.2 72.0,41.0" fill="none" stroke="#141400" stroke-width="0.5" stroke-opacity="0.38" stroke-linecap="round"/>
<path d="M4,100 C4,116 10,130 24,135 C34,134 40,128 43,120 L44,102 C30,98 15,98 4,100 Z" fill="#4a4a00" fill-opacity="0.088"/><path d="M4,100 C4,116 10,130 24,135 C34,134 40,128 43,120 L44,102 C30,98 15,98 4,100 Z" fill="url(#hatch2)" opacity="0.220"/>
<path d="M44.0,100.0 C41.7,99.7 35.3,97.3 30.0,98.0 C24.7,98.7 16.0,100.3 12.0,104.0 C8.0,107.7 7.0,117.3 6.0,120.0 M44.0,100.0 C41.8,99.8 35.9,97.9 30.8,98.7 C25.7,99.6 17.5,101.4 13.6,105.1 C9.7,108.7 8.3,118.1 7.3,120.7 M44.0,100.0 C41.9,99.9 36.4,98.5 31.6,99.5 C26.8,100.5 19.0,102.4 15.2,106.1 C11.3,109.8 9.6,118.9 8.5,121.5 M44.0,100.0 C42.1,100.0 36.9,99.0 32.4,100.2 C27.8,101.4 20.5,103.5 16.7,107.2 C13.0,110.8 10.9,119.7 9.8,122.2 M44.0,100.0 C42.2,100.2 37.4,99.6 33.2,100.9 C28.9,102.3 22.0,104.5 18.3,108.2 C14.6,111.9 12.3,120.5 11.1,122.9 M44.0,100.0 C42.3,100.3 38.0,100.1 33.9,101.7 C29.9,103.2 23.5,105.6 19.9,109.3 C16.3,112.9 13.6,121.3 12.3,123.7 M44.0,100.0 C42.5,100.4 38.5,100.7 34.7,102.4 C31.0,104.1 25.0,106.6 21.5,110.3 C17.9,114.0 14.9,122.1 13.6,124.4 M44.0,100.0 C42.6,100.5 39.0,101.3 35.5,103.2 C32.0,105.1 26.5,107.7 23.1,111.4 C19.6,115.0 16.2,122.9 14.8,125.2 M44.0,100.0 C42.7,100.6 39.5,101.8 36.3,103.9 C33.1,106.0 28.0,108.8 24.6,112.4 C21.3,116.1 17.5,123.6 16.1,125.9 M44.0,100.0 C42.9,100.8 40.1,102.4 37.1,104.6 C34.1,106.9 29.5,109.8 26.2,113.5 C22.9,117.1 18.8,124.4 17.4,126.6 M44.0,100.0 C43.0,100.9 40.6,102.9 37.9,105.4 C35.2,107.8 31.0,110.9 27.8,114.5 C24.6,118.2 20.2,125.2 18.6,127.4 M44.0,100.0 C43.1,101.0 41.1,103.5 38.7,106.1 C36.2,108.7 32.5,111.9 29.4,115.6 C26.2,119.2 21.5,126.0 19.9,128.1 M44.0,100.0 C43.2,101.1 41.6,104.1 39.5,106.8 C37.3,109.6 34.0,113.0 30.9,116.6 C27.9,120.3 22.8,126.8 21.2,128.8 M44.0,100.0 C43.4,101.3 42.2,104.6 40.3,107.6 C38.4,110.5 35.5,114.0 32.5,117.7 C29.6,121.4 24.1,127.6 22.4,129.6 M44.0,100.0 C43.5,101.4 42.7,105.2 41.1,108.3 C39.4,111.4 37.0,115.1 34.1,118.7 C31.2,122.4 25.4,128.4 23.7,130.3 M44.0,100.0 C43.6,101.5 43.2,105.8 41.8,109.1 C40.5,112.4 38.5,116.1 35.7,119.8 C32.9,123.5 26.7,129.2 24.9,131.1 M44.0,100.0 C43.8,101.6 43.8,106.3 42.6,109.8 C41.5,113.3 40.0,117.2 37.3,120.8 C34.5,124.5 28.1,130.0 26.2,131.8 M44.0,100.0 C43.9,101.8 44.3,106.9 43.4,110.5 C42.6,114.2 41.5,118.2 38.8,121.9 C36.2,125.6 29.4,130.8 27.5,132.5 M44.0,100.0 C44.0,101.9 44.8,107.4 44.2,111.3 C43.6,115.1 43.0,119.3 40.4,122.9 C37.8,126.6 30.7,131.5 28.7,133.3 M44.0,100.0 C44.2,102.0 45.3,108.0 45.0,112.0 C44.7,116.0 44.5,120.3 42.0,124.0 C39.5,127.7 32.0,132.3 30.0,134.0" fill="none" stroke="#141400" stroke-width="0.45" stroke-opacity="0.45" stroke-linecap="round"/>
<path d="M44.0,96.0 C45.0,98.3 48.0,104.3 50.0,110.0 C52.0,115.7 54.0,123.3 56.0,130.0 C58.0,136.7 61.0,146.7 62.0,150.0 M45.6,95.8 C46.6,98.2 49.7,104.3 51.6,110.0 C53.6,115.7 55.5,123.3 57.5,130.0 C59.4,136.7 62.5,146.7 63.5,150.0 M47.3,95.6 C48.3,98.0 51.3,104.3 53.3,110.0 C55.2,115.7 57.0,123.3 58.9,130.0 C60.8,136.7 63.9,146.7 64.9,150.0 M48.9,95.5 C49.9,97.9 53.0,104.2 54.9,110.0 C56.8,115.8 58.5,123.3 60.4,130.0 C62.3,136.7 65.4,146.7 66.4,150.0 M50.5,95.3 C51.5,97.7 54.7,104.2 56.5,110.0 C58.4,115.8 59.9,123.3 61.8,130.0 C63.7,136.7 66.8,146.7 67.8,150.0 M52.2,95.1 C53.2,97.6 56.3,104.2 58.2,110.0 C60.0,115.8 61.4,123.3 63.3,130.0 C65.1,136.7 68.3,146.7 69.3,150.0 M53.8,94.9 C54.8,97.4 58.0,104.2 59.8,110.0 C61.6,115.8 62.9,123.3 64.7,130.0 C66.5,136.7 69.7,146.7 70.7,150.0 M55.5,94.7 C56.5,97.3 59.7,104.1 61.5,110.0 C63.2,115.9 64.4,123.3 66.2,130.0 C68.0,136.7 71.2,146.7 72.2,150.0 M57.1,94.5 C58.1,97.1 61.3,104.1 63.1,110.0 C64.8,115.9 65.9,123.3 67.6,130.0 C69.4,136.7 72.6,146.7 73.6,150.0 M58.7,94.4 C59.7,97.0 63.0,104.1 64.7,110.0 C66.5,115.9 67.4,123.3 69.1,130.0 C70.8,136.7 74.1,146.7 75.1,150.0 M60.4,94.2 C61.4,96.8 64.7,104.0 66.4,110.0 C68.1,116.0 68.8,123.3 70.5,130.0 C72.2,136.7 75.5,146.7 76.5,150.0 M62.0,94.0 C63.0,96.7 66.3,104.0 68.0,110.0 C69.7,116.0 70.3,123.3 72.0,130.0 C73.7,136.7 77.0,146.7 78.0,150.0" fill="none" stroke="#141400" stroke-width="0.45" stroke-opacity="0.32" stroke-linecap="round"/>
<path d="M62.0,94.0 C63.7,95.7 69.0,100.3 72.0,104.0 C75.0,107.7 77.7,111.0 80.0,116.0 C82.3,121.0 85.0,131.0 86.0,134.0 M63.6,93.6 C65.3,95.2 70.9,99.6 74.0,103.2 C77.1,106.8 79.7,110.3 82.0,115.2 C84.3,120.1 87.0,129.5 88.0,132.4 M65.2,93.2 C67.0,94.7 72.9,98.9 76.0,102.4 C79.1,105.9 81.7,109.7 84.0,114.4 C86.3,119.1 89.0,128.1 90.0,130.8 M66.8,92.8 C68.7,94.3 74.8,98.1 78.0,101.6 C81.2,105.1 83.7,109.0 86.0,113.6 C88.3,118.2 91.0,126.6 92.0,129.2 M68.4,92.4 C70.3,93.8 76.7,97.4 80.0,100.8 C83.3,104.2 85.7,108.3 88.0,112.8 C90.3,117.3 93.0,125.1 94.0,127.6 M70.0,92.0 C72.0,93.3 78.7,96.7 82.0,100.0 C85.3,103.3 87.7,107.7 90.0,112.0 C92.3,116.3 95.0,123.7 96.0,126.0" fill="none" stroke="#141400" stroke-width="0.45" stroke-opacity="0.25" stroke-linecap="round"/>
<path d="M104.0,62.0 C106.7,62.7 114.7,64.7 120.0,66.0 C125.3,67.3 131.0,69.0 136.0,70.0 C141.0,71.0 147.7,71.7 150.0,72.0 M104.1,63.9 C106.8,64.7 114.6,67.3 119.9,68.9 C125.1,70.6 130.7,72.4 135.7,73.6 C140.8,74.8 147.6,75.6 150.0,76.0 M104.3,65.7 C106.8,66.8 114.5,70.0 119.7,71.9 C124.9,73.8 130.4,75.8 135.5,77.2 C140.5,78.6 147.6,79.5 150.0,80.0 M104.4,67.6 C106.9,68.8 114.5,72.6 119.6,74.8 C124.7,77.0 130.1,79.3 135.2,80.8 C140.3,82.3 147.5,83.5 150.0,84.0 M104.5,69.5 C107.0,70.8 114.4,75.2 119.5,77.7 C124.5,80.2 129.8,82.7 134.9,84.4 C140.0,86.1 147.5,87.4 150.0,88.0 M104.7,71.3 C107.1,72.9 114.3,77.9 119.3,80.7 C124.3,83.4 129.6,86.1 134.7,88.0 C139.8,89.9 147.4,91.3 150.0,92.0 M104.8,73.2 C107.2,74.9 114.3,80.5 119.2,83.6 C124.1,86.7 129.3,89.5 134.4,91.6 C139.5,93.7 147.4,95.3 150.0,96.0 M104.9,75.1 C107.3,77.0 114.2,83.2 119.1,86.5 C123.9,89.9 129.0,93.0 134.1,95.2 C139.3,97.4 147.4,99.2 150.0,100.0 M105.1,76.9 C107.4,79.0 114.1,85.8 118.9,89.5 C123.7,93.1 128.7,96.4 133.9,98.8 C139.0,101.2 147.3,103.1 150.0,104.0 M105.2,78.8 C107.5,81.1 114.1,88.5 118.8,92.4 C123.5,96.3 128.4,99.8 133.6,102.4 C138.8,105.0 147.3,107.1 150.0,108.0 M105.3,80.7 C107.6,83.1 114.0,91.1 118.7,95.3 C123.3,99.6 128.1,103.2 133.3,106.0 C138.6,108.8 147.2,111.0 150.0,112.0 M105.5,82.5 C107.6,85.2 113.9,93.8 118.5,98.3 C123.1,102.8 127.8,106.6 133.1,109.6 C138.3,112.6 147.2,114.9 150.0,116.0 M105.6,84.4 C107.7,87.2 113.9,96.4 118.4,101.2 C122.9,106.0 127.5,110.1 132.8,113.2 C138.1,116.3 147.1,118.9 150.0,120.0 M105.7,86.3 C107.8,89.2 113.8,99.0 118.3,104.1 C122.7,109.2 127.2,113.5 132.5,116.8 C137.8,120.1 147.1,122.8 150.0,124.0 M105.9,88.1 C107.9,91.3 113.7,101.7 118.1,107.1 C122.5,112.4 127.0,116.9 132.3,120.4 C137.6,123.9 147.0,126.7 150.0,128.0 M106.0,90.0 C108.0,93.3 113.7,104.3 118.0,110.0 C122.3,115.7 126.7,120.3 132.0,124.0 C137.3,127.7 147.0,130.7 150.0,132.0" fill="none" stroke="#141400" stroke-width="0.45" stroke-opacity="0.28" stroke-linecap="round"/>
<path d="M46.0,76.0 C48.0,75.0 54.3,72.0 58.0,70.0 C61.7,68.0 65.0,65.7 68.0,64.0 C71.0,62.3 74.7,60.7 76.0,60.0 M46.0,77.8 C48.0,76.9 54.4,74.4 58.2,72.7 C62.0,71.0 65.5,69.1 68.7,67.6 C71.8,66.0 75.7,64.0 77.1,63.3 M46.0,79.6 C48.1,78.9 54.6,76.7 58.4,75.3 C62.3,73.9 66.0,72.6 69.3,71.1 C72.6,69.7 76.7,67.4 78.2,66.7 M46.0,81.3 C48.1,80.8 54.7,79.1 58.7,78.0 C62.7,76.9 66.6,76.0 70.0,74.7 C73.4,73.3 77.8,70.8 79.3,70.0 M46.0,83.1 C48.1,82.7 54.8,81.5 58.9,80.7 C63.0,79.9 67.1,79.4 70.7,78.2 C74.3,77.0 78.8,74.1 80.4,73.3 M46.0,84.9 C48.2,84.6 54.9,83.9 59.1,83.3 C63.3,82.8 67.6,82.9 71.3,81.8 C75.1,80.7 79.9,77.5 81.6,76.7 M46.0,86.7 C48.2,86.6 55.0,86.2 59.3,86.0 C63.7,85.8 68.1,86.3 72.0,85.3 C75.9,84.3 80.9,80.9 82.7,80.0 M46.0,88.4 C48.3,88.5 55.1,88.6 59.6,88.7 C64.0,88.7 68.6,89.8 72.7,88.9 C76.7,88.0 81.9,84.3 83.8,83.3 M46.0,90.2 C48.3,90.4 55.2,91.0 59.8,91.3 C64.3,91.7 69.1,93.2 73.3,92.4 C77.5,91.7 83.0,87.6 84.9,86.7 M46.0,92.0 C48.3,92.3 55.3,93.3 60.0,94.0 C64.7,94.7 69.7,96.7 74.0,96.0 C78.3,95.3 84.0,91.0 86.0,90.0" fill="none" stroke="#141400" stroke-width="0.45" stroke-opacity="0.3" stroke-linecap="round"/>
<path d="M30.0,42.0 C30.0,43.7 29.0,48.3 30.0,52.0 C31.0,55.7 33.3,60.0 36.0,64.0 C38.7,68.0 44.3,74.0 46.0,76.0 M33.8,40.7 C33.9,42.3 33.4,47.0 34.4,50.7 C35.5,54.3 37.7,58.7 40.2,62.7 C42.7,66.6 47.8,72.3 49.3,74.2 M37.6,39.3 C37.8,41.0 37.7,45.7 38.9,49.3 C40.0,53.0 42.1,57.5 44.4,61.3 C46.7,65.2 51.3,70.6 52.7,72.4 M41.3,38.0 C41.7,39.7 42.1,44.3 43.3,48.0 C44.6,51.7 46.6,56.2 48.7,60.0 C50.8,63.8 54.8,68.9 56.0,70.7 M45.1,36.7 C45.6,38.3 46.5,43.0 47.8,46.7 C49.1,50.3 51.0,55.0 52.9,58.7 C54.8,62.4 58.3,67.2 59.3,68.9 M48.9,35.3 C49.4,37.0 50.9,41.7 52.2,45.3 C53.6,49.0 55.4,53.7 57.1,57.3 C58.9,61.0 61.7,65.5 62.7,67.1 M52.7,34.0 C53.3,35.7 55.2,40.3 56.7,44.0 C58.1,47.7 59.8,52.4 61.3,56.0 C62.9,59.6 65.2,63.8 66.0,65.3 M56.4,32.7 C57.2,34.3 59.6,39.0 61.1,42.7 C62.6,46.3 64.2,51.2 65.6,54.7 C66.9,58.1 68.7,62.1 69.3,63.6 M60.2,31.3 C61.1,33.0 64.0,37.7 65.6,41.3 C67.1,45.0 68.6,49.9 69.8,53.3 C71.0,56.7 72.2,60.4 72.7,61.8 M64.0,30.0 C65.0,31.7 68.3,36.3 70.0,40.0 C71.7,43.7 73.0,48.7 74.0,52.0 C75.0,55.3 75.7,58.7 76.0,60.0" fill="none" stroke="#141400" stroke-width="0.45" stroke-opacity="0.3" stroke-linecap="round"/>
<path d="M28,26 C36,20 50,20 62,26 C68,32 72,42 76,56 L74,62 C66,68 56,74 46,76 C40,66 32,54 30,44 Z" fill="#4a4a00" fill-opacity="0.066"/><path d="M28,26 C36,20 50,20 62,26 C68,32 72,42 76,56 L74,62 C66,68 56,74 46,76 C40,66 32,54 30,44 Z" fill="url(#hatch)" opacity="0.165"/>
<path d="M46,76 C56,72 66,64 76,60 C80,66 84,74 86,84 C84,92 80,96 74,96 C64,96 54,94 46,92 Z" fill="#4a4a00" fill-opacity="0.077"/><path d="M46,76 C56,72 66,64 76,60 C80,66 84,74 86,84 C84,92 80,96 74,96 C64,96 54,94 46,92 Z" fill="url(#hatch)" opacity="0.193"/>
<ellipse cx="128.5" cy="61.2" rx="3.8" ry="4.6" fill="#b2e45e" fill-opacity="0.9" transform="rotate(0 128.5 61.2)"/>
<path d="M29,38 C34,44 42,46 48,46 C55,46 62,43 64,38 C64,48 60,56 50,58 C40,58 32,52 29,38 Z" fill="#3a3a00" fill-opacity="0.22"/>
<ellipse cx="48" cy="49" rx="8.5" ry="6.5" fill="#8a8a18" fill-opacity="0.45" transform="rotate(0 48 49)"/>
<ellipse cx="46.5" cy="33.5" rx="16.8" ry="8" fill="#bcec50" fill-opacity="0.9" transform="rotate(0 46.5 33.5)"/>
<ellipse cx="48.4" cy="45.5" rx="8.5" ry="5" fill="#1e1e00" fill-opacity="0.5" transform="rotate(0 48.4 45.5)"/>
<ellipse cx="48.4" cy="48.4" rx="4.4" ry="2.0" fill="#c85222" fill-opacity="0.95" transform="rotate(0 48.4 48.4)"/>
<path d="M55.7,22.8 C59,25 62,28.5 64,32 C66,35 67,38 67.6,41.2" fill="none" stroke="#141400" stroke-width="1.6" stroke-opacity="0.55" stroke-linecap="round" stroke-linejoin="round" />
<path d="M29.7,33.6 C32,36 35,39 40.5,42.3" fill="none" stroke="#141400" stroke-width="1.6" stroke-opacity="0.55" stroke-linecap="round" stroke-linejoin="round" />
<path d="M12.2,3.4 C14,1.5 17,0.5 20.3,1.4 C22.5,2.2 24,3.8 25,6 C26.5,9 27.5,13 27.7,17.6 C27.8,21 27,24 27.2,27.5 C27.5,31 29.5,33.5 32.4,35" fill="none" stroke="#141400" stroke-width="2.5" stroke-opacity="0.62" stroke-linecap="round" stroke-linejoin="round" />
<path d="M30.3,41 C29,46 30,50 34,52 C38,55 42,57 46,58" fill="none" stroke="#141400" stroke-width="1.6" stroke-opacity="0.6" stroke-linecap="round" stroke-linejoin="round" />
<path d="M26,34 C32,28 40,26 48,26 C56,26 62,29 66,32" fill="none" stroke="#141400" stroke-width="1.3" stroke-opacity="0.45" stroke-linecap="round" stroke-linejoin="round" />
<path d="M54,0 C52,6 52,12 53,18 C54,24 57,28 61,31" fill="none" stroke="#141400" stroke-width="1.4" stroke-opacity="0.45" stroke-linecap="round" stroke-linejoin="round" />
<path d="M66,30 C70,40 73,50 76.8,58" fill="none" stroke="#141400" stroke-width="1.6" stroke-opacity="0.6" stroke-linecap="round" stroke-linejoin="round" />
<path d="M76.8,58 C82,54 88,50 94,46 C97,44 100,42 102,40.5" fill="none" stroke="#141400" stroke-width="1.7" stroke-opacity="0.65" stroke-linecap="round" stroke-linejoin="round" />
<path d="M74.6,60.3 C66,66 58,72 50,78 C46,81 44,84 43,87" fill="none" stroke="#141400" stroke-width="1.5" stroke-opacity="0.55" stroke-linecap="round" stroke-linejoin="round" />
<path d="M72,57.3 L126,56.5" fill="none" stroke="#141400" stroke-width="2.0" stroke-opacity="0.85" stroke-linecap="round" stroke-linejoin="round" />
<path d="M78,62.5 C90,63.8 108,64.2 124,63" fill="none" stroke="#141400" stroke-width="0.8" stroke-opacity="0.45" stroke-linecap="round" stroke-linejoin="round" />
<ellipse cx="125.5" cy="55.5" rx="4.2" ry="3.2" fill="#000" fill-opacity="0.92" transform="rotate(-20 125.5 55.5)"/>
<ellipse cx="76.5" cy="58.5" rx="3.2" ry="2.6" fill="#000" fill-opacity="0.9" transform="rotate(0 76.5 58.5)"/>
<path d="M124,58.4 C119,66 114,73 109,80 C106,84 103,86 101.4,87.3" fill="none" stroke="#141400" stroke-width="2.0" stroke-opacity="0.8" stroke-linecap="round" stroke-linejoin="round" />
<path d="M101,87.3 C99,100 96,112 92.5,123 C100,124.5 106,124.5 114,123.5 C109,112 104,100 101,87.3 Z" fill="#2a1000" fill-opacity="0.45"/>
<path d="M99.8,111 C100.8,109 102.2,109 103.2,111 C104.5,115 106,119.5 108,123 C104,124.3 99.5,124.3 95.8,123 C97.5,119.5 98.8,115 99.8,111 Z" fill="#050300" fill-opacity="0.85"/>
<path d="M101,87.3 C99,100 96,112 92.5,123" fill="none" stroke="#141400" stroke-width="1.2" stroke-opacity="0.7" stroke-linecap="round" stroke-linejoin="round" />
<path d="M101,87.3 C104,100 109,112 114,123.5" fill="none" stroke="#141400" stroke-width="1.2" stroke-opacity="0.7" stroke-linecap="round" stroke-linejoin="round" />
<path d="M92.5,123 C88,128 84,134 80,140" fill="none" stroke="#141400" stroke-width="1.0" stroke-opacity="0.4" stroke-linecap="round" stroke-linejoin="round" />
<path d="M114,123.5 C120,126 126,128 132,128" fill="none" stroke="#141400" stroke-width="1.0" stroke-opacity="0.4" stroke-linecap="round" stroke-linejoin="round" />
<path d="M109.0,87.0 C112.0,88.3 121.7,94.8 127.0,95.0 C132.3,95.2 137.8,90.7 141.0,88.0 C144.2,85.3 145.2,80.5 146.0,79.0 M109.2,88.7 C112.2,90.0 121.6,96.6 126.9,96.8 C132.2,97.0 137.7,92.7 140.9,90.1 C144.2,87.5 145.4,82.7 146.3,81.2 M109.4,90.3 C112.3,91.7 121.6,98.3 126.9,98.6 C132.1,98.9 137.6,94.8 140.9,92.3 C144.1,89.7 145.6,84.9 146.5,83.4 M109.6,92.0 C112.5,93.4 121.6,100.0 126.8,100.4 C132.0,100.8 137.5,96.9 140.8,94.4 C144.1,91.9 145.8,87.1 146.8,85.6 M109.8,93.7 C112.6,95.1 121.6,101.7 126.7,102.2 C131.9,102.7 137.3,98.9 140.7,96.5 C144.1,94.1 146.0,89.3 147.1,87.8 M110.0,95.3 C112.8,96.8 121.6,103.4 126.7,104.0 C131.8,104.6 137.2,101.0 140.7,98.7 C144.1,96.3 146.2,91.4 147.3,90.0 M110.2,97.0 C112.9,98.5 121.5,105.2 126.6,105.8 C131.7,106.4 137.1,103.1 140.6,100.8 C144.1,98.5 146.4,93.6 147.6,92.2 M110.4,98.7 C113.1,100.2 121.5,106.9 126.5,107.6 C131.6,108.3 137.0,105.1 140.5,102.9 C144.1,100.7 146.6,95.8 147.9,94.4 M110.6,100.3 C113.2,101.8 121.5,108.6 126.5,109.4 C131.4,110.2 136.9,107.2 140.5,105.1 C144.1,102.9 146.9,98.0 148.1,96.6 M110.8,102.0 C113.4,103.5 121.5,110.3 126.4,111.2 C131.3,112.1 136.7,109.3 140.4,107.2 C144.1,105.1 147.1,100.2 148.4,98.8 M111.0,103.7 C113.6,105.2 121.4,112.1 126.3,113.0 C131.2,113.9 136.6,111.3 140.3,109.3 C144.1,107.3 147.3,102.4 148.7,101.0 M111.2,105.3 C113.7,106.9 121.4,113.8 126.3,114.8 C131.1,115.8 136.5,113.4 140.3,111.5 C144.0,109.5 147.5,104.6 148.9,103.2 M111.4,107.0 C113.9,108.6 121.4,115.5 126.2,116.6 C131.0,117.7 136.4,115.5 140.2,113.6 C144.0,111.7 147.7,106.8 149.2,105.4 M111.6,108.7 C114.0,110.3 121.4,117.2 126.1,118.4 C130.9,119.6 136.2,117.5 140.1,115.7 C144.0,113.9 147.9,109.0 149.5,107.6 M111.8,110.3 C114.2,112.0 121.4,118.9 126.1,120.2 C130.8,121.5 136.1,119.6 140.1,117.9 C144.0,116.1 148.1,111.1 149.7,109.8 M112.0,112.0 C114.3,113.7 121.3,120.7 126.0,122.0 C130.7,123.3 136.0,121.7 140.0,120.0 C144.0,118.3 148.3,113.3 150.0,112.0" fill="none" stroke="#141400" stroke-width="0.4" stroke-opacity="0.3" stroke-linecap="round"/>
<path d="M72,116 C80,118 88,120 93,123 L92,150 L76,150 C75,140 74,128 72,116 Z" fill="#4a4a00" fill-opacity="0.077"/><path d="M72,116 C80,118 88,120 93,123 L92,150 L76,150 C75,140 74,128 72,116 Z" fill="url(#hatch)" opacity="0.193"/>
<path d="M76.0,92.0 C76.3,95.0 77.3,103.7 78.0,110.0 C78.7,116.3 79.3,123.3 80.0,130.0 C80.7,136.7 81.7,146.7 82.0,150.0 M77.6,92.9 C77.9,95.8 78.9,104.4 79.6,110.6 C80.2,116.7 80.8,123.4 81.3,130.0 C81.9,136.6 82.6,146.7 82.9,150.0 M79.1,93.8 C79.4,96.7 80.5,105.1 81.1,111.1 C81.7,117.1 82.2,123.5 82.7,130.0 C83.1,136.5 83.6,146.7 83.8,150.0 M80.7,94.7 C81.0,97.5 82.1,105.8 82.7,111.7 C83.2,117.6 83.7,123.6 84.0,130.0 C84.3,136.4 84.6,146.7 84.7,150.0 M82.2,95.6 C82.6,98.3 83.7,106.5 84.2,112.2 C84.7,118.0 85.1,123.7 85.3,130.0 C85.6,136.3 85.5,146.7 85.6,150.0 M83.8,96.4 C84.1,99.2 85.3,107.2 85.8,112.8 C86.3,118.4 86.6,123.8 86.7,130.0 C86.8,136.2 86.5,146.7 86.4,150.0 M85.3,97.3 C85.7,100.0 86.9,107.9 87.3,113.3 C87.8,118.8 88.0,123.9 88.0,130.0 C88.0,136.1 87.4,146.7 87.3,150.0 M86.9,98.2 C87.2,100.8 88.5,108.6 88.9,113.9 C89.3,119.2 89.4,124.0 89.3,130.0 C89.2,136.0 88.4,146.7 88.2,150.0 M88.4,99.1 C88.8,101.7 90.1,109.3 90.4,114.4 C90.8,119.6 90.9,124.1 90.7,130.0 C90.4,135.9 89.4,146.7 89.1,150.0 M90.0,100.0 C90.3,102.5 91.7,110.0 92.0,115.0 C92.3,120.0 92.3,124.2 92.0,130.0 C91.7,135.8 90.3,146.7 90.0,150.0" fill="none" stroke="#141400" stroke-width="0.4" stroke-opacity="0.35" stroke-linecap="round"/>
<path d="M62,94 C70,100 78,110 84,122 C86,132 88,140 90,150 L62,150 C58,138 52,122 46,108 Z" fill="#4a4a00" fill-opacity="0.055"/><path d="M62,94 C70,100 78,110 84,122 C86,132 88,140 90,150 L62,150 C58,138 52,122 46,108 Z" fill="url(#hatch)" opacity="0.138"/>
<ellipse cx="101.4" cy="87.5" rx="2" ry="2.2" fill="#000" fill-opacity="0.9" transform="rotate(0 101.4 87.5)"/>
<path d="M108,81 C113,86 119,93 127,95 C134,96 139,91 142,86 C144,83 145,80 146,78" fill="none" stroke="#141400" stroke-width="1.5" stroke-opacity="0.7" stroke-linecap="round" stroke-linejoin="round" />
<path d="M126,95 C128,102 130,109 131.4,116" fill="none" stroke="#141400" stroke-width="1.4" stroke-opacity="0.55" stroke-linecap="round" stroke-linejoin="round" />
<path d="M136,70 C140,74 142,78 142,82" fill="none" stroke="#141400" stroke-width="1.2" stroke-opacity="0.45" stroke-linecap="round" stroke-linejoin="round" />
<path d="M0,92.7 C6,92 10,91.8 13,91.6 C18,90.5 22,89.5 26,89.5 C31,89.5 35,90.5 39,91.6 C43,93 45,94 47.6,95.5 C51,96.5 54,97 57,100 C60,103 61.5,108 62.5,113 C63,118 61,121.5 58,122.8 C55,124 52,123.5 49.7,122.5" fill="none" stroke="#141400" stroke-width="1.7" stroke-opacity="0.72" stroke-linecap="round" stroke-linejoin="round" />
<path d="M6.5,120 C8,125 10,128 13,130.5 C17,133 21,135 26,135 C31,135 35,132 39,128.4 C41,126 42,124 43,122" fill="none" stroke="#141400" stroke-width="2.0" stroke-opacity="0.72" stroke-linecap="round" stroke-linejoin="round" />
<ellipse cx="40.5" cy="111" rx="2.4" ry="7.2" fill="#000" fill-opacity="0.92" transform="rotate(0 40.5 111)"/>
<path d="M41,67 L50,73.5" fill="none" stroke="#141400" stroke-width="2.4" stroke-opacity="0.75" stroke-linecap="round" stroke-linejoin="round" />
<ellipse cx="70.8" cy="82.2" rx="3.8" ry="6" fill="#0c0c28" fill-opacity="0.9" transform="rotate(-10 70.8 82.2)"/>
<ellipse cx="72.5" cy="84" rx="1.6" ry="2.5" fill="#5038c0" fill-opacity="0.8" transform="rotate(0 72.5 84)"/>
<path d="M30,41 C30,34 38,28 46,27.5 C54,27 61,30 63,36 C64,42 62,48 58,52" fill="none" stroke="#141400" stroke-width="1.0" stroke-opacity="0.3" stroke-linecap="round" stroke-linejoin="round" />
<ellipse cx="42.2" cy="41" rx="1.8" ry="1.8" fill="#000" fill-opacity="0.92" transform="rotate(0 42.2 41)"/>
<ellipse cx="55.1" cy="40.4" rx="1.8" ry="1.8" fill="#000" fill-opacity="0.92" transform="rotate(0 55.1 40.4)"/>
<ellipse cx="42.2" cy="49.3" rx="1.8" ry="1.8" fill="#000" fill-opacity="0.92" transform="rotate(0 42.2 49.3)"/>
<ellipse cx="55.1" cy="49.3" rx="1.8" ry="1.8" fill="#000" fill-opacity="0.92" transform="rotate(0 55.1 49.3)"/>
<ellipse cx="43.2" cy="56.6" rx="1.8" ry="1.8" fill="#000" fill-opacity="0.92" transform="rotate(0 43.2 56.6)"/></g>
</g>
<text x="1.0" y="12.3" font-family="Liberation Serif, serif" font-size="13.4" font-weight="bold" fill="#1a1a1a" stroke="#1a1a1a" stroke-width="0.2">(c)</text>
</g>
<text x="394.3" y="166.8" text-anchor="middle" font-family="Liberation Serif, serif" font-weight="bold" font-size="8" stroke="#000" stroke-width="0.2">0</text>
<text x="391.9" y="159.8" text-anchor="end" font-family="Liberation Serif, serif" font-weight="bold" font-size="8" stroke="#000" stroke-width="0.2">0</text>
<path d="M394.3,7.2 v-1.6 M394.3,157.2 v1.3 M394.3,157.2 h-1.3 M544.3,157.2 h1.6" stroke="#b8b8c8" stroke-width="0.6"/>
<text x="414.4" y="166.8" text-anchor="middle" font-family="Liberation Serif, serif" font-weight="bold" font-size="8" stroke="#000" stroke-width="0.2">5</text>
<text x="391.9" y="139.6" text-anchor="end" font-family="Liberation Serif, serif" font-weight="bold" font-size="8" stroke="#000" stroke-width="0.2">5</text>
<path d="M414.4,7.2 v-1.6 M414.4,157.2 v1.3 M394.3,137.0 h-1.3 M544.3,137.0 h1.6" stroke="#b8b8c8" stroke-width="0.6"/>
<text x="434.6" y="166.8" text-anchor="middle" font-family="Liberation Serif, serif" font-weight="bold" font-size="8" stroke="#000" stroke-width="0.2">10</text>
<text x="391.9" y="119.5" text-anchor="end" font-family="Liberation Serif, serif" font-weight="bold" font-size="8" stroke="#000" stroke-width="0.2">10</text>
<path d="M434.6,7.2 v-1.6 M434.6,157.2 v1.3 M394.3,116.9 h-1.3 M544.3,116.9 h1.6" stroke="#b8b8c8" stroke-width="0.6"/>
<text x="454.8" y="166.8" text-anchor="middle" font-family="Liberation Serif, serif" font-weight="bold" font-size="8" stroke="#000" stroke-width="0.2">15</text>
<text x="391.9" y="99.3" text-anchor="end" font-family="Liberation Serif, serif" font-weight="bold" font-size="8" stroke="#000" stroke-width="0.2">15</text>
<path d="M454.8,7.2 v-1.6 M454.8,157.2 v1.3 M394.3,96.7 h-1.3 M544.3,96.7 h1.6" stroke="#b8b8c8" stroke-width="0.6"/>
<text x="474.9" y="166.8" text-anchor="middle" font-family="Liberation Serif, serif" font-weight="bold" font-size="8" stroke="#000" stroke-width="0.2">20</text>
<text x="391.9" y="79.2" text-anchor="end" font-family="Liberation Serif, serif" font-weight="bold" font-size="8" stroke="#000" stroke-width="0.2">20</text>
<path d="M474.9,7.2 v-1.6 M474.9,157.2 v1.3 M394.3,76.6 h-1.3 M544.3,76.6 h1.6" stroke="#b8b8c8" stroke-width="0.6"/>
<text x="495.1" y="166.8" text-anchor="middle" font-family="Liberation Serif, serif" font-weight="bold" font-size="8" stroke="#000" stroke-width="0.2">25</text>
<text x="391.9" y="59.0" text-anchor="end" font-family="Liberation Serif, serif" font-weight="bold" font-size="8" stroke="#000" stroke-width="0.2">25</text>
<path d="M495.1,7.2 v-1.6 M495.1,157.2 v1.3 M394.3,56.4 h-1.3 M544.3,56.4 h1.6" stroke="#b8b8c8" stroke-width="0.6"/>
<text x="515.2" y="166.8" text-anchor="middle" font-family="Liberation Serif, serif" font-weight="bold" font-size="8" stroke="#000" stroke-width="0.2">30</text>
<text x="391.9" y="38.9" text-anchor="end" font-family="Liberation Serif, serif" font-weight="bold" font-size="8" stroke="#000" stroke-width="0.2">30</text>
<path d="M515.2,7.2 v-1.6 M515.2,157.2 v1.3 M394.3,36.3 h-1.3 M544.3,36.3 h1.6" stroke="#b8b8c8" stroke-width="0.6"/>
<text x="535.4" y="166.8" text-anchor="middle" font-family="Liberation Serif, serif" font-weight="bold" font-size="8" stroke="#000" stroke-width="0.2">35</text>
<text x="391.9" y="18.7" text-anchor="end" font-family="Liberation Serif, serif" font-weight="bold" font-size="8" stroke="#000" stroke-width="0.2">35</text>
<path d="M535.4,7.2 v-1.6 M535.4,157.2 v1.3 M394.3,16.1 h-1.3 M544.3,16.1 h1.6" stroke="#b8b8c8" stroke-width="0.6"/>
<rect x="394.3" y="7.2" width="150.0" height="150.0" fill="none" stroke="#c4c4cc" stroke-width="0.6"/>
<text x="466.9" y="177.6" text-anchor="middle" font-family="Liberation Serif, serif" font-size="10.4" stroke="#111" stroke-width="0.25">y(km)</text>
<text transform="translate(382.5,82.8) rotate(-90)" text-anchor="middle" font-family="Liberation Serif, serif" font-size="10" stroke="#111" stroke-width="0.25">x(km)</text><g transform="translate(25.3,189.8)">
<g clip-path="url(#clip)">
<use href="#field" transform="translate(0,-0.6)"/>
<g transform="translate(0,-0.6)"><circle cx="75" cy="60" r="1.5" fill="#000"/>
<circle cx="103" cy="60" r="1.5" fill="#000"/>
<circle cx="125.5" cy="60" r="1.5" fill="#000"/>
<circle cx="70" cy="73.5" r="1.5" fill="#000"/>
<circle cx="72" cy="74.5" r="1.5" fill="#000"/>
<circle cx="74" cy="75.5" r="1.5" fill="#000"/>
<circle cx="81" cy="78.2" r="1.5" fill="#000"/>
<circle cx="69.8" cy="79.8" r="1.5" fill="#000"/>
<circle cx="100.1" cy="88.5" r="1.5" fill="#000"/>
<circle cx="100.1" cy="118.6" r="1.5" fill="#000"/>
<circle cx="39.5" cy="110.8" r="1.5" fill="#000"/></g>
<g filter="url(#soft)" transform="translate(0,-0.6)"><path d="M40.4,41.5 L43.2,48.5 L41.5,50" fill="none" stroke="#000" stroke-width="3.0" stroke-opacity="0.95" stroke-linecap="round" stroke-linejoin="round" />
<path d="M55,41.2 L52.4,48.5 L54.2,50" fill="none" stroke="#000" stroke-width="3.0" stroke-opacity="0.95" stroke-linecap="round" stroke-linejoin="round" />
<path d="M70.9,72.8 L74.2,74.4" fill="none" stroke="#000" stroke-width="2.2" stroke-opacity="0.95" stroke-linecap="round" stroke-linejoin="round" /></g>
</g>
<text x="1.0" y="10.9" font-family="Liberation Serif, serif" font-size="13.4" fill="#1a1a1a" stroke="#1a1a1a" stroke-width="0.2">(d)</text>
</g>
<text x="25.3" y="349.4" text-anchor="middle" font-family="Liberation Serif, serif" font-weight="bold" font-size="8" stroke="#000" stroke-width="0.2">0</text>
<text x="22.9" y="342.4" text-anchor="end" font-family="Liberation Serif, serif" font-weight="bold" font-size="8" stroke="#000" stroke-width="0.2">0</text>
<path d="M25.3,189.8 v-1.6 M25.3,339.8 v1.3 M25.3,339.8 h-1.3 M175.3,339.8 h1.6" stroke="#b8b8c8" stroke-width="0.6"/>
<text x="45.5" y="349.4" text-anchor="middle" font-family="Liberation Serif, serif" font-weight="bold" font-size="8" stroke="#000" stroke-width="0.2">5</text>
<text x="22.9" y="322.3" text-anchor="end" font-family="Liberation Serif, serif" font-weight="bold" font-size="8" stroke="#000" stroke-width="0.2">5</text>
<path d="M45.5,189.8 v-1.6 M45.5,339.8 v1.3 M25.3,319.7 h-1.3 M175.3,319.7 h1.6" stroke="#b8b8c8" stroke-width="0.6"/>
<text x="65.6" y="349.4" text-anchor="middle" font-family="Liberation Serif, serif" font-weight="bold" font-size="8" stroke="#000" stroke-width="0.2">10</text>
<text x="22.9" y="302.1" text-anchor="end" font-family="Liberation Serif, serif" font-weight="bold" font-size="8" stroke="#000" stroke-width="0.2">10</text>
<path d="M65.6,189.8 v-1.6 M65.6,339.8 v1.3 M25.3,299.5 h-1.3 M175.3,299.5 h1.6" stroke="#b8b8c8" stroke-width="0.6"/>
<text x="85.8" y="349.4" text-anchor="middle" font-family="Liberation Serif, serif" font-weight="bold" font-size="8" stroke="#000" stroke-width="0.2">15</text>
<text x="22.9" y="282.0" text-anchor="end" font-family="Liberation Serif, serif" font-weight="bold" font-size="8" stroke="#000" stroke-width="0.2">15</text>
<path d="M85.8,189.8 v-1.6 M85.8,339.8 v1.3 M25.3,279.4 h-1.3 M175.3,279.4 h1.6" stroke="#b8b8c8" stroke-width="0.6"/>
<text x="105.9" y="349.4" text-anchor="middle" font-family="Liberation Serif, serif" font-weight="bold" font-size="8" stroke="#000" stroke-width="0.2">20</text>
<text x="22.9" y="261.8" text-anchor="end" font-family="Liberation Serif, serif" font-weight="bold" font-size="8" stroke="#000" stroke-width="0.2">20</text>
<path d="M105.9,189.8 v-1.6 M105.9,339.8 v1.3 M25.3,259.2 h-1.3 M175.3,259.2 h1.6" stroke="#b8b8c8" stroke-width="0.6"/>
<text x="126.0" y="349.4" text-anchor="middle" font-family="Liberation Serif, serif" font-weight="bold" font-size="8" stroke="#000" stroke-width="0.2">25</text>
<text x="22.9" y="241.7" text-anchor="end" font-family="Liberation Serif, serif" font-weight="bold" font-size="8" stroke="#000" stroke-width="0.2">25</text>
<path d="M126.0,189.8 v-1.6 M126.0,339.8 v1.3 M25.3,239.1 h-1.3 M175.3,239.1 h1.6" stroke="#b8b8c8" stroke-width="0.6"/>
<text x="146.2" y="349.4" text-anchor="middle" font-family="Liberation Serif, serif" font-weight="bold" font-size="8" stroke="#000" stroke-width="0.2">30</text>
<text x="22.9" y="221.5" text-anchor="end" font-family="Liberation Serif, serif" font-weight="bold" font-size="8" stroke="#000" stroke-width="0.2">30</text>
<path d="M146.2,189.8 v-1.6 M146.2,339.8 v1.3 M25.3,218.9 h-1.3 M175.3,218.9 h1.6" stroke="#b8b8c8" stroke-width="0.6"/>
<text x="166.4" y="349.4" text-anchor="middle" font-family="Liberation Serif, serif" font-weight="bold" font-size="8" stroke="#000" stroke-width="0.2">35</text>
<text x="22.9" y="201.3" text-anchor="end" font-family="Liberation Serif, serif" font-weight="bold" font-size="8" stroke="#000" stroke-width="0.2">35</text>
<path d="M166.4,189.8 v-1.6 M166.4,339.8 v1.3 M25.3,198.8 h-1.3 M175.3,198.8 h1.6" stroke="#b8b8c8" stroke-width="0.6"/>
<rect x="25.3" y="189.8" width="150.0" height="150.0" fill="none" stroke="#c4c4cc" stroke-width="0.6"/>
<text x="97.1" y="362.7" text-anchor="middle" font-family="Liberation Serif, serif" font-size="10.4" stroke="#111" stroke-width="0.25">y(km)</text>
<text transform="translate(13.5,265.4) rotate(-90)" text-anchor="middle" font-family="Liberation Serif, serif" font-size="10" stroke="#111" stroke-width="0.25">x(km)</text><g transform="translate(208.4,189.8)">
<g clip-path="url(#clip)">
<use href="#field" transform="translate(0,-0.6)"/>
<g transform="translate(0,-0.6)"><circle cx="41.7" cy="41.5" r="1.5" fill="#000"/>
<circle cx="55.2" cy="41.5" r="1.5" fill="#000"/>
<circle cx="41.9" cy="49.6" r="1.5" fill="#000"/>
<circle cx="55.2" cy="49.6" r="1.5" fill="#000"/>
<circle cx="75.5" cy="60" r="1.5" fill="#000"/>
<circle cx="105" cy="60" r="1.5" fill="#000"/>
<circle cx="111.5" cy="60" r="1.5" fill="#000"/>
<circle cx="126.5" cy="60" r="1.5" fill="#000"/>
<circle cx="72.5" cy="80" r="1.5" fill="#000"/>
<circle cx="101.3" cy="89" r="1.5" fill="#000"/>
<circle cx="101.3" cy="106" r="1.5" fill="#000"/>
<circle cx="100.6" cy="119.5" r="1.5" fill="#000"/>
<circle cx="40.5" cy="110.5" r="1.5" fill="#000"/></g>
</g>
<text x="1.0" y="10.9" font-family="Liberation Serif, serif" font-size="13.4" fill="#1a1a1a" stroke="#1a1a1a" stroke-width="0.2">(e)</text>
</g>
<text x="208.4" y="349.4" text-anchor="middle" font-family="Liberation Serif, serif" font-weight="bold" font-size="8" stroke="#000" stroke-width="0.2">0</text>
<text x="206.0" y="342.4" text-anchor="end" font-family="Liberation Serif, serif" font-weight="bold" font-size="8" stroke="#000" stroke-width="0.2">0</text>
<path d="M208.4,189.8 v-1.6 M208.4,339.8 v1.3 M208.4,339.8 h-1.3 M358.4,339.8 h1.6" stroke="#b8b8c8" stroke-width="0.6"/>
<text x="228.6" y="349.4" text-anchor="middle" font-family="Liberation Serif, serif" font-weight="bold" font-size="8" stroke="#000" stroke-width="0.2">5</text>
<text x="206.0" y="322.3" text-anchor="end" font-family="Liberation Serif, serif" font-weight="bold" font-size="8" stroke="#000" stroke-width="0.2">5</text>
<path d="M228.6,189.8 v-1.6 M228.6,339.8 v1.3 M208.4,319.7 h-1.3 M358.4,319.7 h1.6" stroke="#b8b8c8" stroke-width="0.6"/>
<text x="248.7" y="349.4" text-anchor="middle" font-family="Liberation Serif, serif" font-weight="bold" font-size="8" stroke="#000" stroke-width="0.2">10</text>
<text x="206.0" y="302.1" text-anchor="end" font-family="Liberation Serif, serif" font-weight="bold" font-size="8" stroke="#000" stroke-width="0.2">10</text>
<path d="M248.7,189.8 v-1.6 M248.7,339.8 v1.3 M208.4,299.5 h-1.3 M358.4,299.5 h1.6" stroke="#b8b8c8" stroke-width="0.6"/>
<text x="268.9" y="349.4" text-anchor="middle" font-family="Liberation Serif, serif" font-weight="bold" font-size="8" stroke="#000" stroke-width="0.2">15</text>
<text x="206.0" y="282.0" text-anchor="end" font-family="Liberation Serif, serif" font-weight="bold" font-size="8" stroke="#000" stroke-width="0.2">15</text>
<path d="M268.9,189.8 v-1.6 M268.9,339.8 v1.3 M208.4,279.4 h-1.3 M358.4,279.4 h1.6" stroke="#b8b8c8" stroke-width="0.6"/>
<text x="289.0" y="349.4" text-anchor="middle" font-family="Liberation Serif, serif" font-weight="bold" font-size="8" stroke="#000" stroke-width="0.2">20</text>
<text x="206.0" y="261.8" text-anchor="end" font-family="Liberation Serif, serif" font-weight="bold" font-size="8" stroke="#000" stroke-width="0.2">20</text>
<path d="M289.0,189.8 v-1.6 M289.0,339.8 v1.3 M208.4,259.2 h-1.3 M358.4,259.2 h1.6" stroke="#b8b8c8" stroke-width="0.6"/>
<text x="309.1" y="349.4" text-anchor="middle" font-family="Liberation Serif, serif" font-weight="bold" font-size="8" stroke="#000" stroke-width="0.2">25</text>
<text x="206.0" y="241.7" text-anchor="end" font-family="Liberation Serif, serif" font-weight="bold" font-size="8" stroke="#000" stroke-width="0.2">25</text>
<path d="M309.1,189.8 v-1.6 M309.1,339.8 v1.3 M208.4,239.1 h-1.3 M358.4,239.1 h1.6" stroke="#b8b8c8" stroke-width="0.6"/>
<text x="329.3" y="349.4" text-anchor="middle" font-family="Liberation Serif, serif" font-weight="bold" font-size="8" stroke="#000" stroke-width="0.2">30</text>
<text x="206.0" y="221.5" text-anchor="end" font-family="Liberation Serif, serif" font-weight="bold" font-size="8" stroke="#000" stroke-width="0.2">30</text>
<path d="M329.3,189.8 v-1.6 M329.3,339.8 v1.3 M208.4,218.9 h-1.3 M358.4,218.9 h1.6" stroke="#b8b8c8" stroke-width="0.6"/>
<text x="349.5" y="349.4" text-anchor="middle" font-family="Liberation Serif, serif" font-weight="bold" font-size="8" stroke="#000" stroke-width="0.2">35</text>
<text x="206.0" y="201.3" text-anchor="end" font-family="Liberation Serif, serif" font-weight="bold" font-size="8" stroke="#000" stroke-width="0.2">35</text>
<path d="M349.5,189.8 v-1.6 M349.5,339.8 v1.3 M208.4,198.8 h-1.3 M358.4,198.8 h1.6" stroke="#b8b8c8" stroke-width="0.6"/>
<rect x="208.4" y="189.8" width="150.0" height="150.0" fill="none" stroke="#c4c4cc" stroke-width="0.6"/>
<text x="280.2" y="362.7" text-anchor="middle" font-family="Liberation Serif, serif" font-size="10.4" stroke="#111" stroke-width="0.25">y(km)</text>
<text transform="translate(196.6,265.4) rotate(-90)" text-anchor="middle" font-family="Liberation Serif, serif" font-size="10" stroke="#111" stroke-width="0.25">x(km)</text><g transform="translate(394.3,189.8)">
<g clip-path="url(#clip)">
<use href="#field" transform="translate(0,-0.6)"/>
<g transform="translate(0,-0.6)"><circle cx="41.7" cy="41.5" r="1.5" fill="#000"/>
<circle cx="55.2" cy="41.5" r="1.5" fill="#000"/>
<circle cx="41.9" cy="49.6" r="1.5" fill="#000"/>
<circle cx="55.2" cy="49.6" r="1.5" fill="#000"/>
<circle cx="75.5" cy="60" r="1.5" fill="#000"/>
<circle cx="107.5" cy="60" r="1.5" fill="#000"/>
<circle cx="126.5" cy="60" r="1.5" fill="#000"/>
<circle cx="72.5" cy="80" r="1.5" fill="#000"/>
<circle cx="101.3" cy="89" r="1.5" fill="#000"/>
<circle cx="101.3" cy="106" r="1.5" fill="#000"/>
<circle cx="100.6" cy="119.5" r="1.5" fill="#000"/>
<circle cx="40.5" cy="110.5" r="1.5" fill="#000"/></g>
</g>
<text x="1.0" y="10.9" font-family="Liberation Serif, serif" font-size="13.4" fill="#1a1a1a" stroke="#1a1a1a" stroke-width="0.2">(f)</text>
</g>
<text x="394.3" y="349.4" text-anchor="middle" font-family="Liberation Serif, serif" font-weight="bold" font-size="8" stroke="#000" stroke-width="0.2">0</text>
<text x="391.9" y="342.4" text-anchor="end" font-family="Liberation Serif, serif" font-weight="bold" font-size="8" stroke="#000" stroke-width="0.2">0</text>
<path d="M394.3,189.8 v-1.6 M394.3,339.8 v1.3 M394.3,339.8 h-1.3 M544.3,339.8 h1.6" stroke="#b8b8c8" stroke-width="0.6"/>
<text x="414.4" y="349.4" text-anchor="middle" font-family="Liberation Serif, serif" font-weight="bold" font-size="8" stroke="#000" stroke-width="0.2">5</text>
<text x="391.9" y="322.3" text-anchor="end" font-family="Liberation Serif, serif" font-weight="bold" font-size="8" stroke="#000" stroke-width="0.2">5</text>
<path d="M414.4,189.8 v-1.6 M414.4,339.8 v1.3 M394.3,319.7 h-1.3 M544.3,319.7 h1.6" stroke="#b8b8c8" stroke-width="0.6"/>
<text x="434.6" y="349.4" text-anchor="middle" font-family="Liberation Serif, serif" font-weight="bold" font-size="8" stroke="#000" stroke-width="0.2">10</text>
<text x="391.9" y="302.1" text-anchor="end" font-family="Liberation Serif, serif" font-weight="bold" font-size="8" stroke="#000" stroke-width="0.2">10</text>
<path d="M434.6,189.8 v-1.6 M434.6,339.8 v1.3 M394.3,299.5 h-1.3 M544.3,299.5 h1.6" stroke="#b8b8c8" stroke-width="0.6"/>
<text x="454.8" y="349.4" text-anchor="middle" font-family="Liberation Serif, serif" font-weight="bold" font-size="8" stroke="#000" stroke-width="0.2">15</text>
<text x="391.9" y="282.0" text-anchor="end" font-family="Liberation Serif, serif" font-weight="bold" font-size="8" stroke="#000" stroke-width="0.2">15</text>
<path d="M454.8,189.8 v-1.6 M454.8,339.8 v1.3 M394.3,279.4 h-1.3 M544.3,279.4 h1.6" stroke="#b8b8c8" stroke-width="0.6"/>
<text x="474.9" y="349.4" text-anchor="middle" font-family="Liberation Serif, serif" font-weight="bold" font-size="8" stroke="#000" stroke-width="0.2">20</text>
<text x="391.9" y="261.8" text-anchor="end" font-family="Liberation Serif, serif" font-weight="bold" font-size="8" stroke="#000" stroke-width="0.2">20</text>
<path d="M474.9,189.8 v-1.6 M474.9,339.8 v1.3 M394.3,259.2 h-1.3 M544.3,259.2 h1.6" stroke="#b8b8c8" stroke-width="0.6"/>
<text x="495.1" y="349.4" text-anchor="middle" font-family="Liberation Serif, serif" font-weight="bold" font-size="8" stroke="#000" stroke-width="0.2">25</text>
<text x="391.9" y="241.7" text-anchor="end" font-family="Liberation Serif, serif" font-weight="bold" font-size="8" stroke="#000" stroke-width="0.2">25</text>
<path d="M495.1,189.8 v-1.6 M495.1,339.8 v1.3 M394.3,239.1 h-1.3 M544.3,239.1 h1.6" stroke="#b8b8c8" stroke-width="0.6"/>
<text x="515.2" y="349.4" text-anchor="middle" font-family="Liberation Serif, serif" font-weight="bold" font-size="8" stroke="#000" stroke-width="0.2">30</text>
<text x="391.9" y="221.5" text-anchor="end" font-family="Liberation Serif, serif" font-weight="bold" font-size="8" stroke="#000" stroke-width="0.2">30</text>
<path d="M515.2,189.8 v-1.6 M515.2,339.8 v1.3 M394.3,218.9 h-1.3 M544.3,218.9 h1.6" stroke="#b8b8c8" stroke-width="0.6"/>
<text x="535.4" y="349.4" text-anchor="middle" font-family="Liberation Serif, serif" font-weight="bold" font-size="8" stroke="#000" stroke-width="0.2">35</text>
<text x="391.9" y="201.3" text-anchor="end" font-family="Liberation Serif, serif" font-weight="bold" font-size="8" stroke="#000" stroke-width="0.2">35</text>
<path d="M535.4,189.8 v-1.6 M535.4,339.8 v1.3 M394.3,198.8 h-1.3 M544.3,198.8 h1.6" stroke="#b8b8c8" stroke-width="0.6"/>
<rect x="394.3" y="189.8" width="150.0" height="150.0" fill="none" stroke="#c4c4cc" stroke-width="0.6"/>
<text x="466.1" y="362.7" text-anchor="middle" font-family="Liberation Serif, serif" font-size="10.4" stroke="#111" stroke-width="0.25">y(km)</text>
<text transform="translate(382.5,265.4) rotate(-90)" text-anchor="middle" font-family="Liberation Serif, serif" font-size="10" stroke="#111" stroke-width="0.25">x(km)</text>
</svg>
</body></html>
